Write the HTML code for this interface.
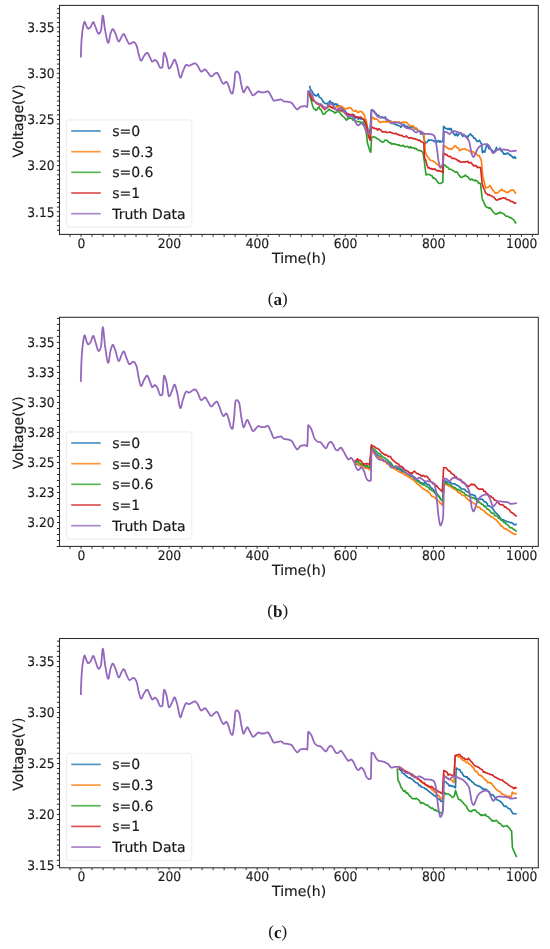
<!DOCTYPE html>
<html><head><meta charset="utf-8"><title>Voltage prediction</title>
<style>html,body{margin:0;padding:0;background:#fff;width:550px;height:949px;overflow:hidden}svg{display:block;text-rendering:geometricPrecision;filter:blur(0.3px)}text{stroke:#1a1a1a;stroke-width:0.18px}</style>
</head><body>
<svg width="550" height="949" viewBox="0 0 550 949">
<rect x="0" y="0" width="550" height="949" fill="#ffffff"/>
<g>
<clipPath id="clipa"><rect x="59.50" y="5.40" width="478.80" height="229.00"/></clipPath>
<g clip-path="url(#clipa)" fill="none" stroke-width="1.65" stroke-linejoin="round" stroke-linecap="butt">
<path d="M309.50,85.80 L310.55,89.62 L311.60,90.55 L312.70,92.72 L313.80,94.81 L314.90,94.66 L316.00,96.00 L317.10,95.65 L318.20,93.98 L319.30,97.16 L320.40,97.95 L321.37,98.46 L322.33,100.24 L323.30,102.18 L324.27,102.57 L325.23,103.55 L326.20,103.61 L327.17,104.15 L328.13,102.86 L329.10,102.01 L330.07,100.89 L331.03,103.50 L332.00,102.62 L332.88,102.81 L333.76,105.22 L334.64,104.27 L335.52,103.81 L336.40,105.20 L337.37,104.02 L338.33,106.75 L339.30,105.89 L340.16,106.50 L341.02,108.72 L341.88,107.54 L342.74,110.04 L343.60,108.95 L344.48,110.74 L345.36,111.08 L346.24,113.82 L347.12,114.78 L348.00,113.95 L348.88,115.11 L349.76,114.63 L350.64,115.47 L351.52,114.76 L352.40,114.32 L353.37,114.61 L354.33,116.62 L355.30,118.39 L356.27,117.27 L357.23,117.04 L358.20,119.23 L359.06,118.28 L359.92,118.48 L360.78,118.89 L361.64,118.90 L362.50,119.07 L363.50,119.19 L364.50,121.61 L365.50,122.13 L366.55,126.74 L367.60,129.22 L368.70,130.22 L369.80,133.73 L370.55,123.42 L371.30,110.21 L372.27,110.57 L373.23,111.07 L374.20,111.91 L375.17,113.21 L376.13,113.28 L377.10,116.02 L378.07,115.19 L379.03,115.98 L380.00,117.48 L380.90,117.75 L381.80,116.68 L382.70,117.31 L383.60,117.83 L384.50,117.36 L385.38,116.91 L386.26,119.47 L387.14,120.39 L388.02,120.77 L388.90,120.51 L389.78,121.33 L390.66,121.32 L391.54,121.82 L392.42,123.29 L393.30,123.75 L394.27,123.72 L395.23,124.24 L396.20,124.96 L397.17,125.06 L398.13,125.63 L399.10,125.79 L399.98,125.96 L400.86,127.39 L401.74,126.05 L402.62,124.84 L403.50,124.45 L404.36,124.73 L405.22,126.24 L406.08,126.83 L406.94,126.04 L407.80,128.06 L408.68,126.99 L409.56,128.21 L410.44,126.98 L411.32,127.87 L412.20,125.96 L413.06,126.66 L413.92,127.68 L414.78,128.83 L415.64,129.04 L416.50,128.27 L417.38,130.06 L418.26,130.66 L419.14,131.04 L420.02,131.59 L420.90,134.11 L422.00,133.26 L423.10,133.67 L424.20,139.48 L425.30,143.80 L426.20,142.57 L427.10,142.14 L428.00,140.84 L428.90,139.67 L429.80,140.47 L430.70,140.31 L431.60,139.99 L432.50,140.53 L433.38,140.71 L434.26,141.56 L435.14,140.89 L436.02,140.63 L436.90,142.37 L437.78,141.14 L438.66,140.52 L439.54,142.10 L440.42,141.13 L441.30,141.87 L442.15,141.50 L443.00,141.46 L443.60,126.37 L444.70,127.61 L445.80,128.49 L446.90,128.48 L448.00,129.29 L448.97,128.45 L449.93,129.71 L450.90,128.45 L452.00,130.95 L453.10,132.92 L454.20,134.12 L455.30,135.49 L456.40,133.58 L457.50,135.87 L458.55,134.55 L459.60,132.74 L460.70,132.55 L461.80,134.81 L462.90,136.45 L464.00,134.48 L465.10,136.16 L466.20,136.83 L466.90,136.23 L467.60,137.94 L468.57,135.70 L469.53,134.89 L470.50,133.89 L471.60,135.39 L472.70,135.93 L473.80,138.17 L474.90,138.19 L476.00,139.75 L477.10,141.52 L478.40,141.22 L479.40,140.21 L480.40,142.10 L481.60,144.04 L482.40,152.69 L483.60,151.03 L484.80,152.11 L486.00,147.29 L487.20,144.61 L488.00,145.97 L488.80,148.55 L489.60,148.01 L490.40,149.25 L491.20,149.67 L492.00,149.97 L492.80,152.41 L493.60,151.59 L494.40,151.26 L495.60,149.95 L496.40,147.37 L497.20,149.68 L498.20,149.70 L499.20,148.91 L500.00,148.14 L500.80,150.76 L501.60,150.32 L502.40,151.79 L503.20,152.93 L504.00,154.19 L504.80,153.83 L505.60,154.21 L506.40,153.27 L507.20,153.60 L508.00,153.01 L508.80,153.76 L509.60,154.98 L510.40,154.84 L511.20,155.96 L512.20,156.57 L513.20,157.96 L514.00,157.63 L514.80,156.65 L516.00,158.84" stroke="#1f77b4"/>
<path d="M309.50,91.00 L310.47,94.08 L311.43,97.78 L312.40,99.90 L313.60,100.90 L314.80,101.53 L316.00,103.01 L317.10,103.68 L318.20,103.42 L319.30,104.10 L320.40,104.82 L321.47,105.19 L322.55,105.77 L323.62,107.19 L324.70,107.54 L325.80,107.30 L326.90,107.28 L328.00,106.89 L329.10,105.84 L330.20,106.21 L331.30,107.03 L332.40,107.29 L333.50,106.95 L334.47,108.07 L335.43,107.21 L336.40,107.23 L337.47,106.20 L338.55,107.13 L339.62,106.11 L340.70,106.15 L341.80,106.29 L342.90,107.57 L344.00,108.27 L345.10,109.02 L346.20,108.92 L347.30,108.38 L348.40,108.41 L349.50,107.39 L350.57,107.88 L351.65,109.04 L352.73,110.06 L353.80,111.06 L354.90,111.24 L356.00,110.46 L357.10,111.79 L358.20,112.66 L359.17,111.79 L360.13,111.30 L361.10,111.44 L362.07,112.04 L363.03,113.52 L364.00,114.19 L365.10,117.73 L366.20,120.22 L367.60,127.67 L369.10,135.57 L370.50,137.12 L371.60,117.54 L372.60,117.98 L373.60,117.51 L374.60,119.33 L375.60,119.04 L376.70,119.07 L377.80,119.95 L378.90,121.37 L380.00,122.54 L381.12,122.08 L382.25,122.26 L383.38,121.48 L384.50,121.30 L385.54,122.20 L386.59,121.92 L387.63,121.59 L388.67,122.08 L389.71,120.97 L390.76,121.11 L391.80,121.66 L392.84,122.23 L393.89,121.60 L394.93,122.56 L395.97,121.73 L397.01,122.35 L398.06,122.32 L399.10,121.89 L400.26,122.58 L401.42,122.74 L402.58,122.11 L403.74,122.01 L404.90,122.53 L406.00,122.24 L407.10,123.03 L408.20,124.31 L409.30,124.96 L410.38,126.31 L411.45,126.04 L412.53,125.71 L413.60,126.02 L414.70,128.49 L415.80,127.83 L416.90,128.66 L418.00,130.04 L419.10,130.91 L420.20,131.45 L421.30,131.67 L422.40,132.28 L423.25,134.52 L424.10,135.68 L425.30,151.76 L426.38,154.83 L427.45,156.45 L428.53,157.79 L429.60,159.58 L430.70,160.35 L431.80,160.49 L432.90,160.74 L434.00,162.05 L435.10,162.15 L436.20,163.88 L437.30,163.95 L438.40,165.46 L439.47,165.64 L440.55,166.70 L441.62,165.62 L442.70,165.66 L443.50,145.61 L444.58,145.88 L445.67,146.60 L446.75,147.54 L447.83,148.18 L448.92,149.06 L450.00,148.47 L451.18,149.49 L452.36,148.69 L453.54,147.21 L454.72,145.77 L455.90,146.26 L457.10,147.77 L458.30,148.13 L459.50,150.63 L460.60,149.98 L461.70,149.20 L462.80,149.31 L463.90,148.95 L465.06,148.86 L466.22,149.76 L467.38,149.95 L468.54,150.47 L469.70,151.44 L470.86,152.06 L472.02,151.99 L473.18,151.66 L474.34,153.34 L475.50,152.78 L476.73,154.29 L477.97,155.77 L479.20,155.69 L480.30,158.06 L481.40,160.84 L482.80,176.63 L483.77,179.96 L484.73,184.08 L485.70,188.12 L486.80,187.50 L487.90,187.21 L489.00,186.75 L490.10,185.61 L491.26,187.62 L492.42,189.57 L493.58,190.82 L494.74,192.38 L495.90,193.44 L497.06,192.85 L498.22,192.41 L499.38,190.94 L500.54,190.49 L501.70,189.18 L502.86,190.78 L504.02,190.80 L505.18,191.44 L506.34,192.35 L507.50,192.59 L508.52,191.63 L509.54,191.57 L510.56,190.14 L511.58,190.54 L512.60,189.96 L513.83,190.37 L515.07,192.90 L516.30,193.18" stroke="#ff7f0e"/>
<path d="M308.70,91.60 L309.67,95.31 L310.63,98.21 L311.60,102.25 L312.70,106.04 L313.80,108.73 L314.90,109.11 L316.00,110.44 L316.97,109.68 L317.93,107.93 L318.90,106.62 L320.00,109.12 L321.10,109.66 L322.20,112.60 L323.30,114.28 L324.46,114.01 L325.62,112.53 L326.78,111.34 L327.94,110.66 L329.10,109.14 L330.26,110.37 L331.42,110.65 L332.58,111.37 L333.74,111.80 L334.90,113.11 L336.10,112.18 L337.30,112.00 L338.50,111.52 L339.52,112.10 L340.54,113.88 L341.56,114.94 L342.58,116.08 L343.60,116.92 L344.57,117.64 L345.53,118.92 L346.50,120.28 L347.60,118.55 L348.70,118.79 L349.80,118.01 L350.90,118.15 L352.00,118.92 L353.10,120.13 L354.20,119.32 L355.30,121.23 L356.46,121.20 L357.62,121.73 L358.78,121.59 L359.94,121.77 L361.10,122.51 L362.07,123.52 L363.03,121.86 L364.00,123.46 L365.10,128.14 L366.20,132.40 L367.60,143.84 L368.70,147.04 L369.80,150.88 L370.80,152.33 L371.60,137.18 L372.60,136.94 L373.60,136.72 L374.60,137.34 L375.60,137.39 L376.70,138.47 L377.80,139.00 L378.90,139.40 L380.00,140.49 L381.60,141.77 L382.70,142.12 L383.80,141.73 L384.90,140.12 L386.00,140.29 L387.16,140.37 L388.32,142.02 L389.48,142.67 L390.64,142.88 L391.80,144.15 L392.84,143.72 L393.89,143.84 L394.93,144.09 L395.97,144.49 L397.01,144.63 L398.06,145.06 L399.10,144.92 L400.14,145.74 L401.19,146.06 L402.23,145.58 L403.27,145.36 L404.31,146.53 L405.36,146.91 L406.40,146.53 L407.43,146.24 L408.46,147.15 L409.49,147.93 L410.51,146.61 L411.54,147.89 L412.57,147.74 L413.60,147.71 L414.78,148.76 L415.96,148.40 L417.14,149.55 L418.32,150.45 L419.50,150.38 L420.70,150.87 L421.90,151.43 L423.10,152.62 L424.50,162.57 L426.00,175.02 L427.02,174.47 L428.04,174.39 L429.06,174.56 L430.08,174.94 L431.10,175.55 L432.20,176.05 L433.30,178.30 L434.40,178.14 L435.50,179.05 L436.57,180.61 L437.65,182.20 L438.73,183.22 L439.80,183.48 L440.77,183.35 L441.73,182.83 L442.70,182.54 L443.50,164.92 L444.58,165.11 L445.67,165.70 L446.75,167.08 L447.83,167.20 L448.92,169.08 L450.00,169.22 L451.10,169.29 L452.20,170.16 L453.30,170.62 L454.40,171.34 L455.50,172.38 L456.60,171.85 L457.70,172.91 L458.80,175.15 L459.90,176.17 L461.00,177.57 L462.10,177.18 L463.20,176.37 L464.30,176.28 L465.40,175.00 L466.42,176.29 L467.44,176.75 L468.46,177.47 L469.48,179.12 L470.50,179.96 L471.50,178.99 L472.50,179.52 L473.50,180.31 L474.50,180.82 L475.50,180.20 L476.52,181.00 L477.54,181.02 L478.56,183.37 L479.58,183.03 L480.60,183.80 L482.10,198.20 L483.30,201.22 L484.50,203.97 L485.70,206.45 L486.80,207.31 L487.90,207.39 L489.00,208.31 L490.10,207.77 L491.26,209.16 L492.42,211.00 L493.58,212.58 L494.74,213.37 L495.90,214.28 L497.00,213.82 L498.10,212.93 L499.20,213.28 L500.30,212.10 L501.46,213.01 L502.62,213.32 L503.78,213.67 L504.94,215.19 L506.10,216.14 L507.26,216.24 L508.42,216.55 L509.58,217.63 L510.74,217.55 L511.90,218.64 L513.00,219.25 L514.10,220.41 L515.20,222.38 L516.30,223.55" stroke="#2ca02c"/>
<path d="M308.70,91.60 L309.93,95.39 L311.17,97.34 L312.40,100.41 L313.60,100.85 L314.80,101.49 L316.00,102.50 L317.10,103.86 L318.20,103.47 L319.30,104.86 L320.40,105.34 L321.47,105.67 L322.55,107.65 L323.62,108.10 L324.70,109.61 L325.80,108.27 L326.90,108.08 L328.00,106.50 L329.10,106.48 L330.20,106.54 L331.30,107.24 L332.40,108.13 L333.50,108.48 L334.66,108.65 L335.82,109.29 L336.98,109.60 L338.14,108.90 L339.30,110.05 L340.46,110.68 L341.62,110.62 L342.78,111.71 L343.94,111.52 L345.10,113.35 L346.26,113.03 L347.42,113.54 L348.58,114.56 L349.74,114.40 L350.90,115.17 L352.00,114.80 L353.10,115.39 L354.20,115.40 L355.30,116.31 L356.46,117.14 L357.62,117.06 L358.78,117.64 L359.94,117.06 L361.10,117.40 L362.30,118.32 L363.50,119.52 L364.70,120.16 L365.80,123.24 L366.90,126.78 L368.40,136.63 L369.25,138.14 L370.10,140.19 L371.30,126.24 L372.27,127.08 L373.23,128.23 L374.20,128.05 L375.36,128.76 L376.52,128.61 L377.68,130.20 L378.84,128.75 L380.00,129.69 L381.12,130.20 L382.25,131.88 L383.38,131.78 L384.50,131.98 L385.54,131.62 L386.59,132.46 L387.63,132.45 L388.67,132.19 L389.71,131.93 L390.76,132.20 L391.80,132.90 L392.84,133.25 L393.89,133.46 L394.93,133.67 L395.97,133.26 L397.01,134.39 L398.06,134.22 L399.10,135.02 L400.14,135.52 L401.19,135.32 L402.23,135.48 L403.27,136.70 L404.31,136.73 L405.36,136.60 L406.40,135.85 L407.43,137.38 L408.46,137.88 L409.49,138.30 L410.51,137.69 L411.54,137.91 L412.57,138.20 L413.60,138.98 L414.78,138.51 L415.96,139.43 L417.14,139.50 L418.32,140.48 L419.50,140.10 L420.57,141.52 L421.65,141.68 L422.73,142.35 L423.80,143.24 L424.50,158.01 L425.73,160.14 L426.97,164.75 L428.20,167.95 L429.36,167.87 L430.52,168.93 L431.68,168.68 L432.84,169.48 L434.00,168.93 L435.16,169.09 L436.32,170.31 L437.48,171.01 L438.64,170.61 L439.80,171.00 L440.77,171.12 L441.73,171.47 L442.70,172.70 L443.50,154.58 L444.58,153.55 L445.67,154.64 L446.75,154.49 L447.83,155.88 L448.92,156.71 L450.00,156.24 L451.10,157.17 L452.20,158.50 L453.30,158.41 L454.40,158.44 L455.50,158.96 L456.60,159.19 L457.78,160.89 L458.96,160.64 L460.14,161.89 L461.32,162.25 L462.50,162.00 L463.57,161.86 L464.65,162.25 L465.73,161.77 L466.80,161.62 L467.84,161.29 L468.89,162.96 L469.93,162.69 L470.97,162.59 L472.01,163.87 L473.06,164.86 L474.10,166.14 L475.18,165.52 L476.27,165.57 L477.35,167.61 L478.43,167.21 L479.52,167.50 L480.60,167.62 L482.10,182.95 L483.30,187.43 L484.50,190.01 L485.70,193.26 L486.86,193.71 L488.02,195.09 L489.18,194.55 L490.34,195.54 L491.50,195.82 L492.68,196.69 L493.86,197.07 L495.04,198.64 L496.22,199.94 L497.40,200.08 L498.56,199.25 L499.72,198.64 L500.88,198.87 L502.04,198.22 L503.20,197.85 L504.36,198.35 L505.52,198.12 L506.68,199.57 L507.84,199.77 L509.00,200.07 L510.04,200.72 L511.09,201.55 L512.13,201.67 L513.17,201.77 L514.21,203.20 L515.26,202.99 L516.30,203.37" stroke="#d62728"/>
<path d="M80.80,57.51 L81.20,46.82 L81.50,41.04 L81.60,39.68 L82.00,34.98 L82.40,31.39 L82.80,28.74 L82.80,28.74 L83.20,26.50 L83.60,24.44 L84.00,22.83 L84.40,21.90 L84.60,21.77 L84.80,21.88 L85.20,22.62 L85.60,23.78 L86.00,25.05 L86.40,26.10 L86.50,26.30 L86.80,26.84 L87.20,27.57 L87.60,28.20 L88.00,28.63 L88.30,28.74 L88.40,28.73 L88.80,28.61 L89.20,28.37 L89.60,28.03 L90.00,27.63 L90.40,27.21 L90.50,27.11 L90.80,26.70 L91.20,25.93 L91.60,24.99 L92.00,24.02 L92.40,23.14 L92.80,22.48 L93.20,22.15 L93.30,22.13 L93.60,22.31 L94.00,22.99 L94.40,24.02 L94.80,25.21 L95.20,26.37 L95.50,27.11 L95.60,27.33 L96.00,28.32 L96.40,29.41 L96.80,30.53 L97.20,31.58 L97.60,32.52 L98.00,33.25 L98.40,33.70 L98.70,33.81 L98.80,33.80 L99.20,33.61 L99.60,33.20 L100.00,32.58 L100.40,31.80 L100.80,30.87 L101.00,30.37 L101.20,29.45 L101.60,25.83 L102.00,21.20 L102.40,17.22 L102.80,15.53 L102.80,15.53 L103.20,16.43 L103.60,18.77 L104.00,21.95 L104.40,25.41 L104.80,28.56 L105.10,30.37 L105.20,30.87 L105.60,32.94 L106.00,35.07 L106.40,37.13 L106.80,39.04 L107.20,40.67 L107.60,41.91 L108.00,42.67 L108.30,42.85 L108.40,42.81 L108.80,41.88 L109.20,40.07 L109.60,37.84 L110.00,35.64 L110.40,33.92 L110.50,33.62 L110.80,32.80 L111.20,31.71 L111.60,30.71 L112.00,29.87 L112.40,29.31 L112.80,29.10 L112.80,29.10 L113.20,29.29 L113.60,29.80 L114.00,30.52 L114.40,31.36 L114.80,32.21 L115.10,32.81 L115.20,33.00 L115.60,33.92 L116.00,35.02 L116.40,36.21 L116.80,37.44 L117.20,38.62 L117.60,39.69 L118.00,40.57 L118.40,41.19 L118.80,41.48 L118.90,41.50 L119.20,41.38 L119.60,40.90 L120.00,40.15 L120.40,39.26 L120.80,38.34 L121.20,37.49 L121.50,36.97 L121.60,36.82 L122.00,36.15 L122.40,35.45 L122.80,34.81 L123.20,34.33 L123.60,34.09 L123.70,34.08 L124.00,34.19 L124.40,34.66 L124.80,35.40 L125.20,36.29 L125.60,37.26 L126.00,38.18 L126.40,38.96 L126.40,38.96 L126.80,39.71 L127.20,40.54 L127.60,41.39 L128.00,42.21 L128.40,42.93 L128.80,43.50 L129.20,43.85 L129.50,43.94 L129.60,43.94 L130.00,43.86 L130.40,43.71 L130.80,43.49 L131.20,43.23 L131.60,42.95 L132.00,42.68 L132.40,42.43 L132.80,42.23 L133.20,42.09 L133.60,42.04 L133.60,42.04 L134.00,42.13 L134.40,42.38 L134.80,42.77 L135.20,43.27 L135.60,43.86 L136.00,44.51 L136.40,45.21 L136.40,45.21 L136.80,46.20 L137.20,47.67 L137.60,49.44 L138.00,51.34 L138.40,53.21 L138.80,54.87 L139.10,55.88 L139.20,56.18 L139.60,57.46 L140.00,58.73 L140.40,59.80 L140.80,60.50 L141.10,60.68 L141.20,60.67 L141.60,60.41 L142.00,59.88 L142.40,59.16 L142.80,58.33 L143.20,57.47 L143.60,56.67 L144.00,56.02 L144.10,55.88 L144.40,55.49 L144.80,54.95 L145.20,54.40 L145.60,53.88 L146.00,53.43 L146.40,53.08 L146.80,52.86 L147.10,52.81 L147.20,52.82 L147.60,53.06 L148.00,53.56 L148.40,54.25 L148.80,55.06 L149.20,55.92 L149.60,56.76 L150.00,57.51 L150.00,57.51 L150.40,58.30 L150.80,59.22 L151.20,60.15 L151.60,60.93 L152.00,61.45 L152.30,61.58 L152.40,61.58 L152.80,61.44 L153.20,61.16 L153.60,60.82 L154.00,60.46 L154.40,60.16 L154.80,59.98 L155.00,59.96 L155.20,59.98 L155.60,60.17 L156.00,60.50 L156.40,60.94 L156.80,61.42 L157.20,61.92 L157.30,62.04 L157.60,62.47 L158.00,63.25 L158.40,64.18 L158.80,65.16 L159.20,66.11 L159.60,66.93 L160.00,67.53 L160.40,67.81 L160.50,67.83 L160.80,67.81 L161.20,67.76 L161.60,67.66 L162.00,67.51 L162.30,67.38 L162.40,67.20 L162.80,64.48 L163.20,59.94 L163.60,55.43 L164.00,52.85 L164.10,52.72 L164.40,52.85 L164.80,53.37 L165.20,54.20 L165.60,55.24 L166.00,56.38 L166.40,57.51 L166.40,57.51 L166.80,58.97 L167.20,60.95 L167.60,63.17 L168.00,65.33 L168.40,67.16 L168.80,68.34 L169.10,68.64 L169.20,68.63 L169.60,68.43 L170.00,67.99 L170.40,67.38 L170.80,66.64 L171.20,65.83 L171.60,65.00 L172.00,64.21 L172.30,63.67 L172.40,63.49 L172.80,62.62 L173.20,61.64 L173.60,60.71 L174.00,59.98 L174.40,59.61 L174.50,59.59 L174.80,59.73 L175.20,60.29 L175.60,61.16 L176.00,62.23 L176.40,63.38 L176.80,64.48 L176.80,64.48 L177.20,65.74 L177.60,67.35 L178.00,69.18 L178.40,71.10 L178.80,72.99 L179.20,74.72 L179.60,76.16 L180.00,77.19 L180.40,77.67 L180.50,77.69 L180.80,77.48 L181.20,76.64 L181.60,75.41 L182.00,74.01 L182.40,72.69 L182.70,71.90 L182.80,71.67 L183.20,70.72 L183.60,69.72 L184.00,68.71 L184.40,67.73 L184.80,66.84 L185.20,66.07 L185.60,65.47 L186.00,65.07 L186.40,64.93 L186.40,64.93 L186.80,64.98 L187.20,65.10 L187.60,65.27 L188.00,65.45 L188.40,65.61 L188.80,65.72 L189.10,65.75 L189.20,65.74 L189.60,65.66 L190.00,65.50 L190.40,65.28 L190.80,65.04 L191.20,64.79 L191.60,64.57 L191.80,64.48 L192.00,64.39 L192.40,64.21 L192.80,64.01 L193.20,63.82 L193.60,63.64 L194.00,63.49 L194.40,63.37 L194.80,63.31 L195.00,63.30 L195.20,63.33 L195.60,63.51 L196.00,63.84 L196.40,64.26 L196.80,64.72 L197.20,65.19 L197.30,65.29 L197.60,65.67 L198.00,66.30 L198.40,67.04 L198.80,67.84 L199.20,68.66 L199.60,69.46 L200.00,70.19 L200.40,70.80 L200.80,71.26 L201.20,71.50 L201.40,71.54 L201.60,71.52 L202.00,71.38 L202.40,71.15 L202.80,70.84 L203.20,70.50 L203.60,70.16 L204.00,69.85 L204.40,69.61 L204.80,69.48 L205.00,69.46 L205.20,69.49 L205.60,69.71 L206.00,70.10 L206.40,70.61 L206.80,71.17 L207.20,71.73 L207.60,72.24 L207.70,72.35 L208.00,72.70 L208.40,73.23 L208.80,73.81 L209.20,74.39 L209.60,74.96 L210.00,75.47 L210.40,75.91 L210.80,76.23 L211.20,76.40 L211.40,76.42 L211.60,76.40 L212.00,76.23 L212.40,75.94 L212.80,75.56 L213.20,75.15 L213.60,74.76 L214.00,74.41 L214.10,74.34 L214.40,74.13 L214.80,73.81 L215.20,73.49 L215.60,73.19 L216.00,72.95 L216.40,72.78 L216.80,72.71 L216.80,72.71 L217.20,72.88 L217.60,73.34 L218.00,73.98 L218.40,74.74 L218.80,75.52 L219.10,76.06 L219.20,76.24 L219.60,77.03 L220.00,77.93 L220.40,78.88 L220.80,79.81 L221.20,80.69 L221.60,81.45 L221.80,81.76 L222.00,82.07 L222.40,82.69 L222.80,83.27 L223.20,83.68 L223.60,83.84 L223.60,83.84 L224.00,83.71 L224.40,83.37 L224.80,82.92 L225.20,82.45 L225.60,82.04 L226.00,81.80 L226.20,81.76 L226.40,81.81 L226.80,82.17 L227.20,82.80 L227.60,83.63 L228.00,84.55 L228.40,85.48 L228.60,85.93 L228.80,86.40 L229.20,87.58 L229.60,88.91 L230.00,90.25 L230.40,91.43 L230.80,92.29 L230.90,92.44 L231.20,92.83 L231.60,93.30 L232.00,93.62 L232.30,93.71 L232.40,93.66 L232.80,92.72 L233.20,90.84 L233.60,88.39 L234.00,85.75 L234.10,85.11 L234.40,82.49 L234.80,77.82 L235.20,73.75 L235.50,72.35 L235.60,72.24 L236.00,71.86 L236.40,71.62 L236.80,71.54 L236.80,71.54 L237.20,71.61 L237.60,71.82 L238.00,72.16 L238.40,72.59 L238.80,73.10 L239.10,73.53 L239.20,73.71 L239.60,75.04 L240.00,77.10 L240.40,79.53 L240.80,82.02 L241.20,84.22 L241.40,85.11 L241.60,85.94 L242.00,87.72 L242.40,89.47 L242.80,90.98 L243.20,92.04 L243.60,92.44 L243.60,92.44 L244.00,92.17 L244.40,91.49 L244.80,90.61 L245.20,89.72 L245.50,89.18 L245.60,89.03 L246.00,88.33 L246.40,87.62 L246.80,87.05 L247.20,86.75 L247.30,86.74 L247.60,86.84 L248.00,87.22 L248.40,87.83 L248.80,88.57 L249.20,89.37 L249.60,90.15 L250.00,90.81 L250.00,90.81 L250.40,91.45 L250.80,92.18 L251.20,92.93 L251.60,93.66 L252.00,94.31 L252.40,94.85 L252.80,95.21 L253.20,95.34 L253.20,95.34 L253.60,95.26 L254.00,95.06 L254.40,94.76 L254.80,94.40 L255.20,94.00 L255.60,93.59 L256.00,93.21 L256.40,92.89 L256.40,92.89 L256.80,92.58 L257.20,92.23 L257.60,91.90 L258.00,91.63 L258.40,91.47 L258.60,91.44 L258.80,91.46 L259.20,91.55 L259.60,91.71 L260.00,91.90 L260.40,92.09 L260.80,92.24 L261.20,92.34 L261.40,92.35 L261.60,92.35 L262.00,92.35 L262.40,92.35 L262.80,92.35 L263.20,92.35 L263.60,92.35 L264.00,92.35 L264.10,92.35 L264.40,92.33 L264.80,92.24 L265.20,92.11 L265.60,91.94 L266.00,91.76 L266.40,91.59 L266.80,91.43 L267.20,91.32 L267.60,91.27 L267.70,91.26 L268.00,91.34 L268.40,91.65 L268.80,92.15 L269.20,92.78 L269.60,93.47 L270.00,94.18 L270.40,94.83 L270.50,94.97 L270.80,95.45 L271.20,96.19 L271.60,97.01 L272.00,97.85 L272.40,98.67 L272.80,99.41 L273.20,100.03 L273.60,100.46 L274.00,100.67 L274.10,100.67 L274.40,100.66 L274.80,100.62 L275.20,100.54 L275.60,100.45 L276.00,100.35 L276.40,100.24 L276.80,100.14 L277.20,100.06 L277.30,100.04 L277.60,99.99 L278.00,99.91 L278.40,99.83 L278.80,99.75 L279.20,99.67 L279.60,99.61 L280.00,99.55 L280.40,99.52 L280.80,99.50 L280.90,99.50 L281.20,99.54 L281.60,99.71 L282.00,99.97 L282.40,100.29 L282.80,100.63 L283.20,100.95 L283.60,101.21 L284.00,101.38 L284.10,101.40 L284.40,101.45 L284.80,101.50 L285.20,101.54 L285.60,101.57 L286.00,101.60 L286.40,101.63 L286.80,101.66 L287.20,101.70 L287.60,101.75 L287.70,101.76 L288.00,101.81 L288.40,101.87 L288.80,101.95 L289.20,102.03 L289.60,102.13 L290.00,102.24 L290.40,102.37 L290.80,102.51 L291.20,102.67 L291.40,102.76 L291.60,102.86 L292.00,103.19 L292.40,103.63 L292.80,104.16 L293.20,104.75 L293.60,105.36 L294.00,105.97 L294.40,106.55 L294.80,107.06 L295.00,107.28 L295.20,107.50 L295.60,107.97 L296.00,108.45 L296.40,108.88 L296.80,109.20 L297.20,109.35 L297.30,109.36 L297.60,109.31 L298.00,109.08 L298.40,108.74 L298.80,108.31 L299.20,107.87 L299.60,107.44 L300.00,107.09 L300.40,106.86 L300.50,106.83 L300.80,106.75 L301.20,106.65 L301.60,106.55 L302.00,106.47 L302.40,106.39 L302.80,106.33 L303.20,106.27 L303.60,106.23 L304.00,106.21 L304.40,106.19 L304.50,106.19 L304.80,106.21 L305.20,106.29 L305.60,106.41 L306.00,106.54 L306.40,106.67 L306.80,106.77 L307.20,106.82 L307.30,106.83 L307.60,102.67 L308.00,92.83 L308.20,90.81 L308.40,90.83 L308.80,90.99 L309.20,91.28 L309.60,91.68 L310.00,92.13 L310.40,92.63 L310.80,93.13 L310.90,93.25 L311.20,93.67 L311.60,94.38 L312.00,95.22 L312.40,96.15 L312.80,97.13 L313.20,98.11 L313.60,99.06 L314.00,99.93 L314.40,100.68 L314.80,101.27 L315.00,101.49 L315.20,101.68 L315.60,102.04 L316.00,102.36 L316.40,102.66 L316.80,102.92 L317.20,103.16 L317.60,103.35 L318.00,103.51 L318.20,103.57 L318.40,103.62 L318.80,103.71 L319.20,103.77 L319.60,103.83 L320.00,103.90 L320.40,103.99 L320.50,104.02 L320.80,104.16 L321.20,104.44 L321.60,104.81 L322.00,105.23 L322.40,105.67 L322.80,106.09 L323.20,106.47 L323.20,106.47 L323.60,106.83 L324.00,107.23 L324.40,107.64 L324.80,108.01 L325.20,108.31 L325.60,108.50 L325.90,108.55 L326.00,108.53 L326.40,108.27 L326.80,107.74 L327.20,107.05 L327.60,106.29 L328.00,105.59 L328.40,105.03 L328.60,104.84 L328.80,104.68 L329.20,104.37 L329.60,104.08 L330.00,103.83 L330.40,103.66 L330.80,103.57 L330.90,103.57 L331.20,103.63 L331.60,103.86 L332.00,104.22 L332.40,104.68 L332.80,105.17 L333.20,105.65 L333.20,105.65 L333.60,106.23 L334.00,106.95 L334.40,107.74 L334.80,108.48 L335.20,109.07 L335.50,109.36 L335.60,109.43 L336.00,109.69 L336.40,109.92 L336.80,110.09 L337.20,110.17 L337.30,110.18 L337.60,110.13 L338.00,109.97 L338.40,109.71 L338.80,109.39 L339.20,109.05 L339.60,108.71 L340.00,108.42 L340.40,108.20 L340.80,108.10 L340.90,108.09 L341.20,108.16 L341.60,108.41 L342.00,108.82 L342.40,109.33 L342.80,109.89 L343.20,110.46 L343.60,110.99 L343.60,110.99 L344.00,111.51 L344.40,112.09 L344.80,112.70 L345.20,113.31 L345.60,113.91 L346.00,114.47 L346.40,114.97 L346.40,114.97 L346.80,115.47 L347.20,116.00 L347.60,116.49 L348.00,116.88 L348.40,117.11 L348.60,117.14 L348.80,117.12 L349.20,116.93 L349.60,116.63 L350.00,116.31 L350.40,116.03 L350.80,115.88 L350.90,115.88 L351.20,115.93 L351.60,116.13 L352.00,116.46 L352.40,116.89 L352.80,117.38 L353.20,117.89 L353.60,118.41 L353.60,118.41 L354.00,119.02 L354.40,119.78 L354.80,120.65 L355.20,121.55 L355.60,122.41 L356.00,123.16 L356.40,123.75 L356.40,123.75 L356.80,124.24 L357.20,124.72 L357.60,125.11 L358.00,125.34 L358.20,125.38 L358.40,125.35 L358.80,125.18 L359.20,124.89 L359.60,124.53 L360.00,124.14 L360.40,123.78 L360.80,123.49 L361.20,123.32 L361.40,123.30 L361.60,123.32 L362.00,123.51 L362.40,123.85 L362.80,124.31 L363.20,124.85 L363.60,125.44 L364.00,126.04 L364.10,126.19 L364.40,126.74 L364.80,127.70 L365.20,128.81 L365.60,129.91 L366.00,130.87 L366.40,131.53 L366.40,131.53 L366.80,131.99 L367.20,132.43 L367.60,132.83 L368.00,133.17 L368.40,133.42 L368.80,133.57 L369.10,133.61 L369.20,133.61 L369.60,133.59 L370.00,133.52 L370.40,133.40 L370.80,133.22 L370.90,133.16 L371.20,121.40 L371.50,109.72 L371.60,109.73 L372.00,109.78 L372.40,109.91 L372.80,110.09 L373.20,110.30 L373.60,110.54 L373.60,110.54 L374.00,110.92 L374.40,111.51 L374.80,112.25 L375.20,113.05 L375.60,113.84 L376.00,114.53 L376.40,115.06 L376.40,115.06 L376.80,115.47 L377.20,115.87 L377.60,116.24 L378.00,116.57 L378.40,116.84 L378.80,117.04 L379.10,117.14 L379.20,117.17 L379.60,117.25 L380.00,117.31 L380.40,117.36 L380.80,117.40 L381.20,117.44 L381.60,117.49 L382.00,117.54 L382.30,117.60 L382.40,117.62 L382.80,117.70 L383.20,117.81 L383.60,117.92 L384.00,118.04 L384.40,118.18 L384.80,118.33 L385.20,118.48 L385.60,118.64 L385.90,118.77 L386.00,118.82 L386.40,119.00 L386.80,119.21 L387.20,119.44 L387.60,119.69 L388.00,119.96 L388.40,120.25 L388.60,120.40 L388.80,120.57 L389.20,121.02 L389.60,121.56 L390.00,122.11 L390.40,122.63 L390.80,123.03 L391.20,123.26 L391.40,123.30 L391.60,123.29 L392.00,123.24 L392.40,123.14 L392.80,123.02 L393.20,122.89 L393.60,122.75 L394.00,122.63 L394.40,122.54 L394.80,122.49 L395.00,122.48 L395.20,122.48 L395.60,122.49 L396.00,122.50 L396.40,122.52 L396.80,122.54 L397.20,122.57 L397.30,122.57 L397.60,122.60 L398.00,122.66 L398.40,122.74 L398.80,122.84 L399.20,122.95 L399.60,123.09 L400.00,123.24 L400.40,123.40 L400.80,123.57 L401.20,123.75 L401.60,123.93 L401.60,123.93 L402.00,124.16 L402.40,124.47 L402.80,124.84 L403.20,125.26 L403.60,125.70 L404.00,126.14 L404.40,126.58 L404.80,126.98 L405.20,127.33 L405.60,127.62 L406.00,127.82 L406.00,127.82 L406.40,127.96 L406.80,128.08 L407.20,128.19 L407.60,128.28 L408.00,128.35 L408.40,128.43 L408.80,128.49 L409.20,128.56 L409.60,128.63 L410.00,128.70 L410.40,128.78 L410.80,128.87 L411.20,128.98 L411.60,129.11 L411.80,129.18 L412.00,129.26 L412.40,129.51 L412.80,129.82 L413.20,130.19 L413.60,130.60 L414.00,131.01 L414.40,131.40 L414.80,131.77 L415.20,132.07 L415.60,132.30 L416.00,132.42 L416.20,132.43 L416.40,132.42 L416.80,132.29 L417.20,132.09 L417.60,131.83 L418.00,131.58 L418.40,131.35 L418.80,131.21 L419.10,131.17 L419.20,131.17 L419.60,131.21 L420.00,131.30 L420.40,131.43 L420.80,131.59 L421.20,131.78 L421.60,131.99 L422.00,132.22 L422.40,132.45 L422.80,132.68 L423.20,132.91 L423.50,133.07 L423.60,133.13 L424.00,133.42 L424.40,133.74 L424.80,133.96 L425.00,133.99 L425.20,133.99 L425.60,133.97 L426.00,133.95 L426.40,133.91 L426.80,133.88 L427.20,133.85 L427.60,133.84 L427.70,133.84 L428.00,133.85 L428.40,133.87 L428.80,133.90 L429.20,133.95 L429.60,134.01 L430.00,134.07 L430.40,134.13 L430.50,134.15 L430.80,134.20 L431.20,134.28 L431.60,134.38 L432.00,134.50 L432.40,134.64 L432.80,134.80 L433.20,134.99 L433.20,134.99 L433.60,135.27 L434.00,135.67 L434.40,136.22 L434.50,136.38 L434.80,137.03 L435.20,138.33 L435.50,139.53 L435.60,139.99 L436.00,142.40 L436.40,145.13 L436.40,145.13 L436.80,147.86 L437.20,150.71 L437.30,151.43 L437.60,153.78 L438.00,157.10 L438.40,160.06 L438.60,161.19 L438.80,162.18 L439.20,164.15 L439.60,165.90 L440.00,167.21 L440.40,167.85 L440.50,167.88 L440.80,167.75 L441.20,167.26 L441.60,166.49 L442.00,165.52 L442.30,164.73 L442.40,164.45 L442.80,163.01 L443.20,160.50 L443.20,160.50 L443.60,147.54 L444.00,132.74 L444.10,131.84 L444.40,131.84 L444.80,131.84 L445.20,131.84 L445.60,131.84 L445.90,131.84 L446.00,131.85 L446.40,131.99 L446.80,132.25 L447.20,132.56 L447.60,132.86 L447.70,132.92 L448.00,133.12 L448.40,133.44 L448.80,133.73 L449.20,133.94 L449.50,133.99 L449.60,133.98 L450.00,133.75 L450.40,133.31 L450.80,132.80 L451.20,132.37 L451.40,132.23 L451.60,132.11 L452.00,131.88 L452.40,131.67 L452.80,131.47 L453.20,131.32 L453.60,131.21 L454.00,131.15 L454.10,131.15 L454.40,131.16 L454.80,131.21 L455.20,131.30 L455.60,131.40 L456.00,131.52 L456.40,131.64 L456.80,131.77 L456.80,131.77 L457.20,131.90 L457.60,132.06 L458.00,132.24 L458.40,132.42 L458.80,132.61 L459.20,132.79 L459.50,132.92 L459.60,132.96 L460.00,133.11 L460.40,133.25 L460.80,133.38 L461.20,133.52 L461.60,133.68 L462.00,133.85 L462.30,133.99 L462.40,134.05 L462.80,134.28 L463.20,134.56 L463.60,134.86 L464.00,135.19 L464.40,135.53 L464.80,135.89 L465.00,136.07 L465.20,136.25 L465.60,136.63 L466.00,137.03 L466.40,137.46 L466.80,137.92 L467.20,138.40 L467.30,138.53 L467.60,138.90 L468.00,139.39 L468.40,139.96 L468.80,140.65 L469.10,141.29 L469.20,141.56 L469.60,143.16 L470.00,145.26 L470.40,147.41 L470.50,147.90 L470.80,149.47 L471.20,151.70 L471.60,153.57 L471.80,154.20 L472.00,154.68 L472.40,155.59 L472.80,156.34 L473.20,156.85 L473.60,157.04 L473.60,157.04 L474.00,156.78 L474.40,156.09 L474.80,155.17 L475.20,154.18 L475.50,153.51 L475.60,153.30 L476.00,152.35 L476.40,151.33 L476.80,150.35 L477.20,149.53 L477.30,149.36 L477.60,148.90 L478.00,148.32 L478.40,147.79 L478.80,147.32 L479.20,146.89 L479.60,146.52 L480.00,146.21 L480.00,146.21 L480.40,145.93 L480.80,145.67 L481.20,145.43 L481.60,145.20 L482.00,145.00 L482.40,144.81 L482.80,144.66 L483.20,144.54 L483.60,144.44 L483.60,144.44 L484.00,144.37 L484.40,144.30 L484.80,144.23 L485.20,144.17 L485.60,144.13 L486.00,144.09 L486.40,144.07 L486.80,144.06 L486.80,144.06 L487.20,144.14 L487.60,144.35 L488.00,144.66 L488.40,145.05 L488.80,145.49 L489.10,145.83 L489.20,145.95 L489.60,146.60 L490.00,147.44 L490.40,148.33 L490.80,149.17 L490.90,149.36 L491.20,149.95 L491.60,150.82 L492.00,151.70 L492.40,152.46 L492.80,153.00 L493.20,153.20 L493.20,153.20 L493.60,153.11 L494.00,152.87 L494.40,152.52 L494.80,152.12 L495.20,151.71 L495.50,151.43 L495.60,151.34 L496.00,150.90 L496.40,150.40 L496.80,149.97 L497.20,149.70 L497.30,149.67 L497.60,149.61 L498.00,149.53 L498.40,149.47 L498.80,149.42 L499.20,149.39 L499.60,149.37 L500.00,149.36 L500.00,149.36 L500.40,149.37 L500.80,149.39 L501.20,149.42 L501.60,149.46 L502.00,149.50 L502.40,149.55 L502.80,149.59 L503.20,149.63 L503.60,149.67 L503.60,149.67 L504.00,149.69 L504.40,149.72 L504.80,149.74 L505.20,149.75 L505.60,149.77 L506.00,149.79 L506.40,149.82 L506.80,149.85 L507.20,149.89 L507.30,149.90 L507.60,149.95 L508.00,150.08 L508.40,150.26 L508.80,150.47 L509.20,150.69 L509.60,150.90 L510.00,151.08 L510.40,151.21 L510.80,151.28 L510.90,151.28 L511.20,151.28 L511.60,151.26 L512.00,151.23 L512.40,151.19 L512.80,151.14 L513.20,151.09 L513.60,151.05 L513.60,151.05 L514.00,151.01 L514.40,150.96 L514.80,150.90 L515.20,150.85 L515.60,150.79 L516.00,150.72 L516.40,150.66 L516.80,150.59" stroke="#9467bd" stroke-width="1.80"/>
</g>
<rect x="59.50" y="5.40" width="478.80" height="229.00" fill="none" stroke="#2b2b2b" stroke-width="1.05"/>
<path d="M69.99,234.40 v2.4 M81.00,234.40 v2.4 M92.01,234.40 v2.4 M103.02,234.40 v2.4 M114.03,234.40 v2.4 M125.04,234.40 v2.4 M136.05,234.40 v2.4 M147.06,234.40 v2.4 M158.07,234.40 v2.4 M169.08,234.40 v2.4 M180.09,234.40 v2.4 M191.10,234.40 v2.4 M202.11,234.40 v2.4 M213.12,234.40 v2.4 M224.13,234.40 v2.4 M235.14,234.40 v2.4 M246.15,234.40 v2.4 M257.16,234.40 v2.4 M268.17,234.40 v2.4 M279.18,234.40 v2.4 M290.19,234.40 v2.4 M301.20,234.40 v2.4 M312.21,234.40 v2.4 M323.22,234.40 v2.4 M334.23,234.40 v2.4 M345.24,234.40 v2.4 M356.25,234.40 v2.4 M367.26,234.40 v2.4 M378.27,234.40 v2.4 M389.28,234.40 v2.4 M400.29,234.40 v2.4 M411.30,234.40 v2.4 M422.31,234.40 v2.4 M433.32,234.40 v2.4 M444.33,234.40 v2.4 M455.34,234.40 v2.4 M466.35,234.40 v2.4 M477.36,234.40 v2.4 M488.37,234.40 v2.4 M499.38,234.40 v2.4 M510.39,234.40 v2.4 M521.40,234.40 v2.4 M532.41,234.40 v2.4 M59.50,230.15 h-2.6 M59.50,225.54 h-2.6 M59.50,220.93 h-2.6 M59.50,216.31 h-2.6 M59.50,211.70 h-2.6 M59.50,207.09 h-2.6 M59.50,202.48 h-2.6 M59.50,197.86 h-2.6 M59.50,193.25 h-2.6 M59.50,188.64 h-2.6 M59.50,184.03 h-2.6 M59.50,179.41 h-2.6 M59.50,174.80 h-2.6 M59.50,170.19 h-2.6 M59.50,165.58 h-2.6 M59.50,160.96 h-2.6 M59.50,156.35 h-2.6 M59.50,151.74 h-2.6 M59.50,147.13 h-2.6 M59.50,142.51 h-2.6 M59.50,137.90 h-2.6 M59.50,133.29 h-2.6 M59.50,128.68 h-2.6 M59.50,124.06 h-2.6 M59.50,119.45 h-2.6 M59.50,114.84 h-2.6 M59.50,110.23 h-2.6 M59.50,105.61 h-2.6 M59.50,101.00 h-2.6 M59.50,96.39 h-2.6 M59.50,91.78 h-2.6 M59.50,87.16 h-2.6 M59.50,82.55 h-2.6 M59.50,77.94 h-2.6 M59.50,73.33 h-2.6 M59.50,68.71 h-2.6 M59.50,64.10 h-2.6 M59.50,59.49 h-2.6 M59.50,54.88 h-2.6 M59.50,50.26 h-2.6 M59.50,45.65 h-2.6 M59.50,41.04 h-2.6 M59.50,36.43 h-2.6 M59.50,31.81 h-2.6 M59.50,27.20 h-2.6 M59.50,22.59 h-2.6 M59.50,17.98 h-2.6 M59.50,13.36 h-2.6 M59.50,8.75 h-2.6" stroke="#2b2b2b" stroke-width="1" fill="none"/>
<g font-family="'DejaVu Sans', 'Liberation Sans', sans-serif" font-size="13.20" fill="#1a1a1a">
<text transform="translate(81.30,247.50) scale(0.930,1)" text-anchor="middle">0</text>
<text transform="translate(169.38,247.50) scale(0.930,1)" text-anchor="middle">200</text>
<text transform="translate(257.46,247.50) scale(0.930,1)" text-anchor="middle">400</text>
<text transform="translate(345.54,247.50) scale(0.930,1)" text-anchor="middle">600</text>
<text transform="translate(433.62,247.50) scale(0.930,1)" text-anchor="middle">800</text>
<text transform="translate(521.70,247.50) scale(0.930,1)" text-anchor="middle">1000</text>
<text transform="translate(54.6,216.50) scale(0.930,1)" text-anchor="end">3.15</text>
<text transform="translate(54.6,170.37) scale(0.930,1)" text-anchor="end">3.20</text>
<text transform="translate(54.6,124.25) scale(0.930,1)" text-anchor="end">3.25</text>
<text transform="translate(54.6,78.13) scale(0.930,1)" text-anchor="end">3.30</text>
<text transform="translate(54.6,32.00) scale(0.930,1)" text-anchor="end">3.35</text>
</g>
<text x="299.10" y="262.80" font-family="'DejaVu Sans', 'Liberation Sans', sans-serif" font-size="14.00" fill="#1a1a1a" text-anchor="middle">Time(h)</text>
<text transform="translate(22.7,120.90) rotate(-90)" font-family="'DejaVu Sans', 'Liberation Sans', sans-serif" font-size="14.00" fill="#1a1a1a" text-anchor="middle">Voltage(V)</text>
<rect x="66.40" y="119.90" width="125.40" height="107.20" rx="2.8" fill="#ffffff" fill-opacity="0.8" stroke="#eaeaea" stroke-width="0.9"/>
<path d="M71.2,131.00 H100.7" stroke="#4c92c3" stroke-width="1.70"/>
<text x="112.2" y="135.90" font-family="'DejaVu Sans', 'Liberation Sans', sans-serif" font-size="14.00" fill="#1a1a1a">s=0</text>
<path d="M71.2,151.67 H100.7" stroke="#ff993e" stroke-width="1.70"/>
<text x="112.2" y="156.57" font-family="'DejaVu Sans', 'Liberation Sans', sans-serif" font-size="14.00" fill="#1a1a1a">s=0.3</text>
<path d="M71.2,172.34 H100.7" stroke="#56b356" stroke-width="1.70"/>
<text x="112.2" y="177.24" font-family="'DejaVu Sans', 'Liberation Sans', sans-serif" font-size="14.00" fill="#1a1a1a">s=0.6</text>
<path d="M71.2,193.01 H100.7" stroke="#de5253" stroke-width="1.70"/>
<text x="112.2" y="197.91" font-family="'DejaVu Sans', 'Liberation Sans', sans-serif" font-size="14.00" fill="#1a1a1a">s=1</text>
<path d="M71.2,213.68 H100.7" stroke="#a985ca" stroke-width="1.70"/>
<text x="112.2" y="218.58" font-family="'DejaVu Sans', 'Liberation Sans', sans-serif" font-size="14.00" fill="#1a1a1a">Truth Data</text>
<text x="277.7" y="304.50" style="stroke:none" font-family="'Liberation Serif', serif" font-size="17.00" fill="#1a1a1a" text-anchor="middle"><tspan dy="-1">(</tspan><tspan dy="1" font-weight="bold">a</tspan><tspan dy="-1">)</tspan></text>
</g>
<g>
<clipPath id="clipb"><rect x="59.50" y="317.30" width="478.80" height="229.10"/></clipPath>
<g clip-path="url(#clipb)" fill="none" stroke-width="1.65" stroke-linejoin="round" stroke-linecap="butt">
<path d="M354.50,463.50 L355.50,463.26 L356.50,464.44 L357.50,464.43 L358.57,464.84 L359.65,465.45 L360.73,465.44 L361.80,466.06 L362.90,466.11 L364.00,466.17 L365.10,466.58 L366.20,466.87 L367.40,467.86 L368.60,468.04 L369.80,468.32 L371.30,449.28 L372.32,449.96 L373.34,450.73 L374.36,451.28 L375.38,453.18 L376.40,454.11 L377.56,455.04 L378.72,455.84 L379.88,456.68 L381.04,457.98 L382.20,459.20 L383.36,459.76 L384.52,460.47 L385.68,461.05 L386.84,462.13 L388.00,462.81 L389.16,463.24 L390.32,464.80 L391.48,465.70 L392.64,466.59 L393.80,467.04 L394.96,467.59 L396.12,467.74 L397.28,469.18 L398.44,468.46 L399.60,469.82 L400.78,470.43 L401.96,471.55 L403.14,471.74 L404.32,471.89 L405.50,472.26 L406.66,473.29 L407.82,474.39 L408.98,475.08 L410.14,475.69 L411.30,476.19 L412.38,476.78 L413.45,477.70 L414.53,477.13 L415.60,478.02 L416.68,479.73 L417.76,480.25 L418.84,480.79 L419.92,482.30 L421.00,482.66 L422.00,482.93 L423.00,483.55 L424.00,483.63 L425.00,481.93 L426.20,483.62 L427.40,484.78 L428.60,484.25 L429.83,485.98 L431.07,487.91 L432.30,488.38 L433.50,490.04 L434.70,491.04 L435.90,491.43 L437.10,493.96 L438.30,495.22 L439.50,497.22 L440.57,499.28 L441.63,500.17 L442.70,501.23 L444.10,479.70 L445.45,480.74 L446.80,482.26 L448.03,481.62 L449.27,482.21 L450.50,482.28 L451.70,483.77 L452.90,483.79 L454.10,483.81 L455.30,484.37 L456.50,485.04 L457.70,485.48 L458.93,486.52 L460.17,487.21 L461.40,488.83 L462.60,488.95 L463.80,489.03 L465.00,489.74 L466.20,491.31 L467.40,491.74 L468.60,492.43 L469.83,493.52 L471.07,494.81 L472.30,494.45 L473.65,495.36 L475.00,495.62 L476.15,498.17 L477.30,499.33 L478.43,499.10 L479.55,498.96 L480.68,499.51 L481.80,499.04 L483.03,499.93 L484.27,501.80 L485.50,501.83 L486.70,502.93 L487.90,505.87 L489.10,505.73 L490.30,506.56 L491.50,507.37 L492.70,508.54 L493.93,510.49 L495.17,512.01 L496.40,513.44 L497.60,514.57 L498.80,515.53 L500.00,517.83 L501.20,519.15 L502.40,519.71 L503.60,519.92 L504.75,520.94 L505.90,520.98 L507.05,521.70 L508.20,521.74 L509.40,522.29 L510.60,522.63 L511.80,522.62 L512.80,523.51 L513.80,524.47 L514.80,524.67 L515.80,524.40 L516.80,524.67" stroke="#1f77b4"/>
<path d="M354.50,464.20 L355.50,463.67 L356.50,463.29 L357.50,463.52 L358.57,464.41 L359.65,465.03 L360.73,465.76 L361.80,466.47 L362.90,466.69 L364.00,466.77 L365.10,468.23 L366.20,468.27 L367.40,468.12 L368.60,468.86 L369.80,469.74 L371.30,450.41 L372.32,451.99 L373.34,452.90 L374.36,453.94 L375.38,454.97 L376.40,456.00 L377.56,456.69 L378.72,457.42 L379.88,458.03 L381.04,458.16 L382.20,459.74 L383.36,461.49 L384.52,461.32 L385.68,462.16 L386.84,463.78 L388.00,464.24 L389.16,464.84 L390.32,466.62 L391.48,467.06 L392.64,467.98 L393.80,468.25 L394.96,469.32 L396.12,469.87 L397.28,470.65 L398.44,471.42 L399.60,472.01 L400.78,472.30 L401.96,473.25 L403.14,473.14 L404.32,474.67 L405.50,475.41 L406.66,475.65 L407.82,476.19 L408.98,477.23 L410.14,477.43 L411.30,478.85 L412.38,479.56 L413.45,479.72 L414.53,480.90 L415.60,482.08 L416.68,483.16 L417.76,484.21 L418.84,484.77 L419.92,485.77 L421.00,486.82 L422.00,487.79 L423.00,489.11 L424.00,489.21 L425.00,489.81 L426.20,490.77 L427.40,490.51 L428.60,492.21 L429.83,493.31 L431.07,495.26 L432.30,496.66 L433.50,496.50 L434.70,497.72 L435.90,498.85 L437.10,499.61 L438.30,500.78 L439.50,502.00 L440.43,503.60 L441.37,503.69 L442.30,505.51 L443.40,493.69 L444.50,482.64 L445.65,484.35 L446.80,484.70 L448.03,485.23 L449.27,486.39 L450.50,486.34 L451.70,487.24 L452.90,488.28 L454.10,489.17 L455.30,489.31 L456.50,490.46 L457.70,491.66 L458.93,492.90 L460.17,492.32 L461.40,494.69 L462.60,495.40 L463.80,495.41 L465.00,496.14 L466.20,498.05 L467.40,498.75 L468.60,500.06 L469.83,501.15 L471.07,501.37 L472.30,502.37 L473.65,503.16 L475.00,504.00 L476.15,505.79 L477.30,507.16 L478.50,507.11 L479.70,507.49 L480.90,509.26 L482.10,509.55 L483.30,510.52 L484.50,510.91 L485.73,512.95 L486.97,513.45 L488.20,514.80 L489.32,515.08 L490.45,516.12 L491.57,517.05 L492.70,517.03 L493.93,518.23 L495.17,519.53 L496.40,519.93 L497.60,521.44 L498.80,523.13 L500.00,524.37 L501.20,526.18 L502.40,526.36 L503.60,528.04 L504.83,528.88 L506.07,528.70 L507.30,530.02 L508.50,530.55 L509.70,531.02 L510.90,532.15 L512.00,532.73 L513.10,533.70 L514.20,534.38 L515.30,533.97 L516.40,534.82" stroke="#ff7f0e"/>
<path d="M354.50,462.00 L355.50,462.00 L356.50,462.06 L357.50,460.20 L358.57,462.60 L359.65,462.67 L360.73,464.16 L361.80,464.01 L362.90,464.18 L364.00,464.92 L365.10,465.77 L366.20,465.61 L367.40,465.37 L368.60,467.57 L369.80,467.38 L371.30,447.06 L372.32,447.84 L373.34,448.39 L374.36,449.52 L375.38,450.50 L376.40,451.52 L377.56,452.66 L378.72,453.41 L379.88,453.77 L381.04,455.24 L382.20,456.64 L383.36,457.35 L384.52,457.70 L385.68,458.64 L386.84,459.48 L388.00,460.41 L389.16,461.88 L390.32,462.30 L391.48,463.64 L392.64,465.74 L393.80,467.10 L394.96,467.51 L396.12,466.19 L397.28,467.56 L398.44,466.62 L399.60,468.83 L400.78,469.27 L401.96,470.00 L403.14,470.66 L404.32,472.05 L405.50,472.07 L406.66,473.38 L407.82,473.89 L408.98,474.52 L410.14,475.29 L411.30,475.85 L412.38,476.23 L413.45,477.97 L414.53,478.90 L415.60,479.44 L416.68,480.73 L417.76,481.70 L418.84,481.62 L419.92,483.04 L421.00,483.80 L422.00,483.97 L423.00,484.90 L424.00,484.75 L425.00,485.30 L426.20,486.21 L427.40,486.86 L428.60,487.44 L429.83,489.51 L431.07,489.47 L432.30,491.01 L433.50,491.26 L434.70,492.92 L435.90,494.12 L437.10,495.38 L438.30,495.78 L439.50,497.17 L440.57,498.93 L441.63,499.39 L442.70,500.93 L444.10,480.46 L445.45,482.67 L446.80,483.66 L448.03,484.01 L449.27,484.04 L450.50,484.93 L451.70,485.83 L452.90,486.65 L454.10,487.25 L455.30,487.94 L456.50,488.85 L457.70,490.13 L458.93,489.36 L460.17,490.42 L461.40,491.10 L462.60,492.26 L463.80,492.55 L465.00,494.35 L466.20,494.91 L467.40,495.52 L468.60,496.09 L469.83,496.90 L471.07,497.35 L472.30,497.85 L473.65,497.82 L475.00,498.89 L476.15,499.54 L477.30,502.36 L478.43,500.99 L479.55,502.68 L480.68,502.98 L481.80,504.46 L483.03,504.33 L484.27,506.72 L485.50,506.10 L486.70,508.78 L487.90,509.13 L489.10,510.01 L490.23,511.22 L491.35,513.04 L492.48,513.48 L493.60,513.09 L494.83,515.54 L496.07,516.00 L497.30,516.07 L498.43,518.07 L499.55,518.11 L500.68,519.66 L501.80,520.60 L502.95,521.11 L504.10,522.59 L505.25,522.74 L506.40,524.19 L507.52,524.75 L508.65,525.82 L509.77,527.67 L510.90,527.75 L512.08,527.95 L513.26,529.13 L514.44,529.57 L515.62,530.67 L516.80,531.47" stroke="#2ca02c"/>
<path d="M354.50,461.30 L355.50,460.60 L356.50,459.87 L357.50,458.85 L358.47,459.77 L359.43,460.51 L360.40,460.22 L361.37,461.54 L362.33,462.66 L363.30,464.26 L364.38,464.31 L365.45,463.62 L366.53,464.11 L367.60,463.53 L368.70,464.12 L369.80,464.91 L371.30,444.78 L372.50,445.93 L373.70,446.36 L374.90,446.89 L376.10,448.15 L377.30,448.36 L378.50,449.09 L379.52,449.99 L380.54,451.26 L381.56,452.25 L382.58,453.36 L383.60,453.79 L384.78,454.89 L385.96,454.65 L387.14,455.36 L388.32,456.60 L389.50,456.36 L390.66,456.84 L391.82,459.19 L392.98,460.13 L394.14,461.35 L395.30,462.09 L396.46,463.04 L397.62,463.66 L398.78,464.33 L399.94,466.21 L401.10,466.23 L402.26,467.04 L403.42,467.92 L404.58,469.82 L405.74,470.24 L406.90,470.53 L408.00,471.40 L409.10,472.38 L410.20,473.27 L411.30,472.88 L412.27,473.31 L413.23,472.10 L414.20,471.19 L415.17,471.79 L416.13,472.79 L417.10,473.69 L418.08,473.64 L419.05,474.50 L420.02,474.56 L421.00,475.82 L422.00,476.17 L423.00,475.33 L424.00,475.97 L425.00,476.76 L426.35,476.06 L427.70,477.13 L428.63,478.94 L429.57,479.27 L430.50,481.22 L431.85,482.52 L433.20,484.00 L434.55,483.72 L435.90,485.50 L437.25,486.49 L438.60,488.24 L439.83,489.46 L441.07,490.32 L442.30,491.62 L443.60,467.82 L444.75,467.79 L445.90,467.75 L447.25,469.19 L448.60,470.92 L449.83,471.03 L451.07,473.02 L452.30,473.91 L453.65,474.50 L455.00,476.56 L456.20,476.84 L457.40,478.44 L458.60,479.13 L459.83,479.25 L461.07,479.90 L462.30,482.73 L463.50,482.52 L464.70,483.08 L465.90,484.81 L467.25,485.71 L468.60,486.50 L469.53,485.74 L470.47,485.07 L471.40,484.13 L472.75,484.64 L474.10,484.34 L475.50,485.75 L476.85,487.52 L478.20,488.74 L479.32,489.32 L480.45,488.94 L481.57,489.23 L482.70,488.98 L483.93,491.41 L485.17,491.34 L486.40,493.29 L487.52,493.70 L488.65,495.15 L489.77,496.23 L490.90,496.06 L492.05,497.63 L493.20,497.86 L494.35,500.21 L495.50,500.30 L496.70,500.69 L497.90,501.98 L499.10,503.79 L500.23,504.44 L501.35,504.92 L502.48,504.57 L503.60,505.43 L504.75,507.24 L505.90,507.17 L507.05,508.35 L508.20,509.07 L509.40,509.91 L510.60,511.91 L511.80,512.58 L512.80,513.22 L513.80,514.00 L514.80,514.92 L515.80,515.86 L516.80,515.90" stroke="#d62728"/>
<path d="M80.80,381.85 L81.20,367.93 L81.50,360.42 L81.60,358.64 L82.00,352.52 L82.40,347.86 L82.80,344.40 L82.80,344.40 L83.20,341.49 L83.60,338.81 L84.00,336.71 L84.40,335.50 L84.60,335.33 L84.80,335.47 L85.20,336.43 L85.60,337.95 L86.00,339.60 L86.40,340.97 L86.50,341.22 L86.80,341.93 L87.20,342.88 L87.60,343.71 L88.00,344.26 L88.30,344.40 L88.40,344.40 L88.80,344.24 L89.20,343.92 L89.60,343.48 L90.00,342.96 L90.40,342.42 L90.50,342.28 L90.80,341.75 L91.20,340.74 L91.60,339.53 L92.00,338.26 L92.40,337.12 L92.80,336.25 L93.20,335.82 L93.30,335.80 L93.60,336.03 L94.00,336.92 L94.40,338.26 L94.80,339.81 L95.20,341.32 L95.50,342.28 L95.60,342.57 L96.00,343.86 L96.40,345.28 L96.80,346.73 L97.20,348.11 L97.60,349.32 L98.00,350.27 L98.40,350.85 L98.70,351.00 L98.80,350.99 L99.20,350.74 L99.60,350.20 L100.00,349.41 L100.40,348.39 L100.80,347.18 L101.00,346.52 L101.20,345.32 L101.60,340.61 L102.00,334.59 L102.40,329.41 L102.80,327.21 L102.80,327.21 L103.20,328.39 L103.60,331.43 L104.00,335.57 L104.40,340.07 L104.80,344.17 L105.10,346.52 L105.20,347.17 L105.60,349.87 L106.00,352.64 L106.40,355.33 L106.80,357.81 L107.20,359.93 L107.60,361.55 L108.00,362.54 L108.30,362.77 L108.40,362.72 L108.80,361.50 L109.20,359.15 L109.60,356.25 L110.00,353.38 L110.40,351.15 L110.50,350.76 L110.80,349.69 L111.20,348.27 L111.60,346.96 L112.00,345.88 L112.40,345.14 L112.80,344.87 L112.80,344.87 L113.20,345.12 L113.60,345.78 L114.00,346.72 L114.40,347.81 L114.80,348.93 L115.10,349.70 L115.20,349.96 L115.60,351.15 L116.00,352.58 L116.40,354.13 L116.80,355.73 L117.20,357.26 L117.60,358.65 L118.00,359.80 L118.40,360.61 L118.80,360.99 L118.90,361.01 L119.20,360.85 L119.60,360.23 L120.00,359.26 L120.40,358.10 L120.80,356.90 L121.20,355.79 L121.50,355.12 L121.60,354.92 L122.00,354.04 L122.40,353.13 L122.80,352.30 L123.20,351.68 L123.60,351.37 L123.70,351.35 L124.00,351.50 L124.40,352.11 L124.80,353.07 L125.20,354.24 L125.60,355.49 L126.00,356.69 L126.40,357.71 L126.40,357.71 L126.80,358.68 L127.20,359.76 L127.60,360.87 L128.00,361.94 L128.40,362.88 L128.80,363.62 L129.20,364.08 L129.50,364.19 L129.60,364.18 L130.00,364.09 L130.40,363.88 L130.80,363.60 L131.20,363.27 L131.60,362.91 L132.00,362.55 L132.40,362.23 L132.80,361.96 L133.20,361.78 L133.60,361.71 L133.60,361.71 L134.00,361.83 L134.40,362.16 L134.80,362.66 L135.20,363.31 L135.60,364.08 L136.00,364.93 L136.40,365.84 L136.40,365.84 L136.80,367.13 L137.20,369.04 L137.60,371.35 L138.00,373.82 L138.40,376.25 L138.80,378.42 L139.10,379.73 L139.20,380.13 L139.60,381.79 L140.00,383.43 L140.40,384.83 L140.80,385.74 L141.10,385.98 L141.20,385.96 L141.60,385.63 L142.00,384.94 L142.40,383.99 L142.80,382.91 L143.20,381.80 L143.60,380.76 L144.00,379.91 L144.10,379.73 L144.40,379.23 L144.80,378.51 L145.20,377.80 L145.60,377.12 L146.00,376.53 L146.40,376.08 L146.80,375.80 L147.10,375.73 L147.20,375.74 L147.60,376.06 L148.00,376.71 L148.40,377.61 L148.80,378.67 L149.20,379.79 L149.60,380.88 L150.00,381.85 L150.00,381.85 L150.40,382.88 L150.80,384.08 L151.20,385.28 L151.60,386.31 L152.00,386.98 L152.30,387.15 L152.40,387.15 L152.80,386.96 L153.20,386.60 L153.60,386.15 L154.00,385.69 L154.40,385.30 L154.80,385.07 L155.00,385.03 L155.20,385.07 L155.60,385.31 L156.00,385.75 L156.40,386.31 L156.80,386.94 L157.20,387.59 L157.30,387.74 L157.60,388.31 L158.00,389.33 L158.40,390.53 L158.80,391.81 L159.20,393.04 L159.60,394.11 L160.00,394.89 L160.40,395.26 L160.50,395.28 L160.80,395.26 L161.20,395.19 L161.60,395.06 L162.00,394.87 L162.30,394.69 L162.40,394.46 L162.80,390.93 L163.20,385.01 L163.60,379.15 L164.00,375.78 L164.10,375.61 L164.40,375.78 L164.80,376.47 L165.20,377.55 L165.60,378.90 L166.00,380.38 L166.40,381.85 L166.40,381.85 L166.80,383.75 L167.20,386.33 L167.60,389.22 L168.00,392.04 L168.40,394.40 L168.80,395.95 L169.10,396.34 L169.20,396.33 L169.60,396.06 L170.00,395.49 L170.40,394.70 L170.80,393.73 L171.20,392.68 L171.60,391.60 L172.00,390.57 L172.30,389.86 L172.40,389.63 L172.80,388.51 L173.20,387.23 L173.60,386.02 L174.00,385.07 L174.40,384.59 L174.50,384.56 L174.80,384.74 L175.20,385.47 L175.60,386.60 L176.00,387.99 L176.40,389.48 L176.80,390.92 L176.80,390.92 L177.20,392.56 L177.60,394.66 L178.00,397.04 L178.40,399.54 L178.80,402.00 L179.20,404.25 L179.60,406.12 L180.00,407.46 L180.40,408.09 L180.50,408.12 L180.80,407.84 L181.20,406.75 L181.60,405.15 L182.00,403.33 L182.40,401.61 L182.70,400.58 L182.80,400.29 L183.20,399.04 L183.60,397.74 L184.00,396.42 L184.40,395.16 L184.80,393.99 L185.20,392.99 L185.60,392.21 L186.00,391.69 L186.40,391.51 L186.40,391.51 L186.80,391.57 L187.20,391.74 L187.60,391.95 L188.00,392.19 L188.40,392.39 L188.80,392.54 L189.10,392.57 L189.20,392.57 L189.60,392.46 L190.00,392.25 L190.40,391.97 L190.80,391.65 L191.20,391.33 L191.60,391.04 L191.80,390.92 L192.00,390.81 L192.40,390.57 L192.80,390.31 L193.20,390.06 L193.60,389.83 L194.00,389.63 L194.40,389.48 L194.80,389.40 L195.00,389.39 L195.20,389.42 L195.60,389.67 L196.00,390.09 L196.40,390.64 L196.80,391.24 L197.20,391.84 L197.30,391.98 L197.60,392.47 L198.00,393.29 L198.40,394.25 L198.80,395.29 L199.20,396.37 L199.60,397.41 L200.00,398.35 L200.40,399.15 L200.80,399.74 L201.20,400.07 L201.40,400.11 L201.60,400.08 L202.00,399.91 L202.40,399.60 L202.80,399.20 L203.20,398.75 L203.60,398.31 L204.00,397.91 L204.40,397.60 L204.80,397.42 L205.00,397.40 L205.20,397.44 L205.60,397.73 L206.00,398.24 L206.40,398.90 L206.80,399.63 L207.20,400.36 L207.60,401.02 L207.70,401.17 L208.00,401.63 L208.40,402.32 L208.80,403.06 L209.20,403.83 L209.60,404.56 L210.00,405.23 L210.40,405.80 L210.80,406.21 L211.20,406.44 L211.40,406.47 L211.60,406.44 L212.00,406.22 L212.40,405.83 L212.80,405.35 L213.20,404.81 L213.60,404.30 L214.00,403.85 L214.10,403.76 L214.40,403.48 L214.80,403.07 L215.20,402.65 L215.60,402.26 L216.00,401.94 L216.40,401.72 L216.80,401.64 L216.80,401.64 L217.20,401.86 L217.60,402.45 L218.00,403.29 L218.40,404.28 L218.80,405.29 L219.10,406.00 L219.20,406.23 L219.60,407.26 L220.00,408.43 L220.40,409.66 L220.80,410.88 L221.20,412.02 L221.60,413.00 L221.80,413.42 L222.00,413.81 L222.40,414.63 L222.80,415.37 L223.20,415.92 L223.60,416.13 L223.60,416.13 L224.00,415.95 L224.40,415.51 L224.80,414.93 L225.20,414.31 L225.60,413.78 L226.00,413.46 L226.20,413.42 L226.40,413.48 L226.80,413.95 L227.20,414.77 L227.60,415.84 L228.00,417.04 L228.40,418.26 L228.60,418.83 L228.80,419.46 L229.20,420.99 L229.60,422.72 L230.00,424.47 L230.40,426.00 L230.80,427.12 L230.90,427.31 L231.20,427.83 L231.60,428.44 L232.00,428.86 L232.30,428.96 L232.40,428.91 L232.80,427.68 L233.20,425.23 L233.60,422.04 L234.00,418.61 L234.10,417.77 L234.40,414.36 L234.80,408.29 L235.20,402.99 L235.50,401.17 L235.60,401.02 L236.00,400.53 L236.40,400.22 L236.80,400.11 L236.80,400.11 L237.20,400.21 L237.60,400.48 L238.00,400.91 L238.40,401.47 L238.80,402.14 L239.10,402.70 L239.20,402.94 L239.60,404.67 L240.00,407.34 L240.40,410.51 L240.80,413.75 L241.20,416.61 L241.40,417.77 L241.60,418.86 L242.00,421.17 L242.40,423.45 L242.80,425.41 L243.20,426.79 L243.60,427.31 L243.60,427.31 L244.00,426.96 L244.40,426.08 L244.80,424.93 L245.20,423.78 L245.50,423.07 L245.60,422.87 L246.00,421.96 L246.40,421.04 L246.80,420.30 L247.20,419.91 L247.30,419.89 L247.60,420.02 L248.00,420.52 L248.40,421.31 L248.80,422.28 L249.20,423.32 L249.60,424.33 L250.00,425.19 L250.00,425.19 L250.40,426.03 L250.80,426.97 L251.20,427.95 L251.60,428.90 L252.00,429.75 L252.40,430.45 L252.80,430.91 L253.20,431.08 L253.20,431.08 L253.60,430.99 L254.00,430.72 L254.40,430.33 L254.80,429.86 L255.20,429.34 L255.60,428.81 L256.00,428.32 L256.40,427.90 L256.40,427.90 L256.80,427.49 L257.20,427.04 L257.60,426.61 L258.00,426.25 L258.40,426.05 L258.60,426.02 L258.80,426.04 L259.20,426.16 L259.60,426.36 L260.00,426.61 L260.40,426.85 L260.80,427.06 L261.20,427.18 L261.40,427.20 L261.60,427.20 L262.00,427.20 L262.40,427.20 L262.80,427.20 L263.20,427.20 L263.60,427.20 L264.00,427.20 L264.10,427.20 L264.40,427.17 L264.80,427.06 L265.20,426.88 L265.60,426.67 L266.00,426.43 L266.40,426.20 L266.80,426.00 L267.20,425.86 L267.60,425.79 L267.70,425.78 L268.00,425.88 L268.40,426.29 L268.80,426.94 L269.20,427.76 L269.60,428.66 L270.00,429.57 L270.40,430.42 L270.50,430.61 L270.80,431.23 L271.20,432.19 L271.60,433.26 L272.00,434.36 L272.40,435.42 L272.80,436.39 L273.20,437.19 L273.60,437.75 L274.00,438.02 L274.10,438.03 L274.40,438.02 L274.80,437.96 L275.20,437.86 L275.60,437.74 L276.00,437.61 L276.40,437.47 L276.80,437.34 L277.20,437.23 L277.30,437.21 L277.60,437.14 L278.00,437.04 L278.40,436.93 L278.80,436.83 L279.20,436.73 L279.60,436.64 L280.00,436.57 L280.40,436.52 L280.80,436.50 L280.90,436.50 L281.20,436.56 L281.60,436.78 L282.00,437.12 L282.40,437.54 L282.80,437.98 L283.20,438.39 L283.60,438.73 L284.00,438.95 L284.10,438.97 L284.40,439.04 L284.80,439.10 L285.20,439.16 L285.60,439.20 L286.00,439.24 L286.40,439.27 L286.80,439.31 L287.20,439.36 L287.60,439.43 L287.70,439.45 L288.00,439.50 L288.40,439.59 L288.80,439.69 L289.20,439.80 L289.60,439.93 L290.00,440.07 L290.40,440.24 L290.80,440.42 L291.20,440.63 L291.40,440.74 L291.60,440.88 L292.00,441.31 L292.40,441.88 L292.80,442.57 L293.20,443.34 L293.60,444.14 L294.00,444.93 L294.40,445.68 L294.80,446.34 L295.00,446.63 L295.20,446.91 L295.60,447.53 L296.00,448.15 L296.40,448.71 L296.80,449.12 L297.20,449.33 L297.30,449.34 L297.60,449.27 L298.00,448.98 L298.40,448.52 L298.80,447.98 L299.20,447.39 L299.60,446.84 L300.00,446.38 L300.40,446.08 L300.50,446.04 L300.80,445.94 L301.20,445.81 L301.60,445.68 L302.00,445.57 L302.40,445.47 L302.80,445.39 L303.20,445.32 L303.60,445.27 L304.00,445.23 L304.40,445.22 L304.50,445.22 L304.80,445.24 L305.20,445.35 L305.60,445.50 L306.00,445.67 L306.40,445.84 L306.80,445.97 L307.20,446.04 L307.30,446.04 L307.60,440.64 L308.00,427.83 L308.20,425.19 L308.40,425.22 L308.80,425.43 L309.20,425.81 L309.60,426.32 L310.00,426.92 L310.40,427.56 L310.80,428.22 L310.90,428.37 L311.20,428.92 L311.60,429.84 L312.00,430.94 L312.40,432.15 L312.80,433.42 L313.20,434.70 L313.60,435.93 L314.00,437.07 L314.40,438.04 L314.80,438.81 L315.00,439.09 L315.20,439.34 L315.60,439.80 L316.00,440.23 L316.40,440.62 L316.80,440.96 L317.20,441.26 L317.60,441.51 L318.00,441.72 L318.20,441.80 L318.40,441.87 L318.80,441.98 L319.20,442.06 L319.60,442.13 L320.00,442.22 L320.40,442.35 L320.50,442.39 L320.80,442.56 L321.20,442.93 L321.60,443.41 L322.00,443.96 L322.40,444.54 L322.80,445.09 L323.20,445.57 L323.20,445.57 L323.60,446.04 L324.00,446.57 L324.40,447.10 L324.80,447.58 L325.20,447.97 L325.60,448.22 L325.90,448.28 L326.00,448.26 L326.40,447.92 L326.80,447.23 L327.20,446.33 L327.60,445.35 L328.00,444.43 L328.40,443.70 L328.60,443.45 L328.80,443.25 L329.20,442.84 L329.60,442.46 L330.00,442.14 L330.40,441.91 L330.80,441.81 L330.90,441.80 L331.20,441.88 L331.60,442.18 L332.00,442.65 L332.40,443.24 L332.80,443.88 L333.20,444.51 L333.20,444.51 L333.60,445.26 L334.00,446.21 L334.40,447.23 L334.80,448.19 L335.20,448.96 L335.50,449.34 L335.60,449.43 L336.00,449.77 L336.40,450.07 L336.80,450.29 L337.20,450.39 L337.30,450.40 L337.60,450.34 L338.00,450.13 L338.40,449.79 L338.80,449.38 L339.20,448.93 L339.60,448.49 L340.00,448.11 L340.40,447.83 L340.80,447.70 L340.90,447.69 L341.20,447.77 L341.60,448.10 L342.00,448.63 L342.40,449.30 L342.80,450.03 L343.20,450.77 L343.60,451.46 L343.60,451.46 L344.00,452.14 L344.40,452.89 L344.80,453.68 L345.20,454.48 L345.60,455.26 L346.00,455.99 L346.40,456.64 L346.40,456.64 L346.80,457.29 L347.20,457.98 L347.60,458.62 L348.00,459.13 L348.40,459.43 L348.60,459.47 L348.80,459.43 L349.20,459.19 L349.60,458.80 L350.00,458.38 L350.40,458.02 L350.80,457.83 L350.90,457.82 L351.20,457.88 L351.60,458.15 L352.00,458.58 L352.40,459.14 L352.80,459.77 L353.20,460.45 L353.60,461.12 L353.60,461.12 L354.00,461.90 L354.40,462.91 L354.80,464.03 L355.20,465.20 L355.60,466.32 L356.00,467.30 L356.40,468.06 L356.40,468.06 L356.80,468.71 L357.20,469.33 L357.60,469.84 L358.00,470.14 L358.20,470.18 L358.40,470.15 L358.80,469.93 L359.20,469.56 L359.60,469.08 L360.00,468.58 L360.40,468.10 L360.80,467.73 L361.20,467.51 L361.40,467.48 L361.60,467.51 L362.00,467.75 L362.40,468.19 L362.80,468.79 L363.20,469.50 L363.60,470.26 L364.00,471.05 L364.10,471.24 L364.40,471.95 L364.80,473.21 L365.20,474.65 L365.60,476.09 L366.00,477.33 L366.40,478.19 L366.40,478.19 L366.80,478.80 L367.20,479.37 L367.60,479.89 L368.00,480.32 L368.40,480.65 L368.80,480.85 L369.10,480.90 L369.20,480.90 L369.60,480.87 L370.00,480.78 L370.40,480.63 L370.80,480.39 L370.90,480.31 L371.20,465.00 L371.50,449.81 L371.60,449.81 L372.00,449.89 L372.40,450.05 L372.80,450.28 L373.20,450.56 L373.60,450.87 L373.60,450.87 L374.00,451.36 L374.40,452.14 L374.80,453.10 L375.20,454.14 L375.60,455.17 L376.00,456.07 L376.40,456.76 L376.40,456.76 L376.80,457.30 L377.20,457.81 L377.60,458.30 L378.00,458.72 L378.40,459.08 L378.80,459.34 L379.10,459.47 L379.20,459.50 L379.60,459.60 L380.00,459.68 L380.40,459.74 L380.80,459.80 L381.20,459.85 L381.60,459.91 L382.00,459.99 L382.30,460.06 L382.40,460.08 L382.80,460.20 L383.20,460.33 L383.60,460.48 L384.00,460.64 L384.40,460.82 L384.80,461.01 L385.20,461.21 L385.60,461.42 L385.90,461.59 L386.00,461.64 L386.40,461.89 L386.80,462.16 L387.20,462.46 L387.60,462.79 L388.00,463.14 L388.40,463.51 L388.60,463.71 L388.80,463.93 L389.20,464.52 L389.60,465.21 L390.00,465.94 L390.40,466.60 L390.80,467.13 L391.20,467.43 L391.40,467.48 L391.60,467.47 L392.00,467.40 L392.40,467.28 L392.80,467.12 L393.20,466.95 L393.60,466.77 L394.00,466.62 L394.40,466.49 L394.80,466.42 L395.00,466.42 L395.20,466.42 L395.60,466.43 L396.00,466.44 L396.40,466.47 L396.80,466.49 L397.20,466.52 L397.30,466.53 L397.60,466.57 L398.00,466.64 L398.40,466.75 L398.80,466.88 L399.20,467.03 L399.60,467.20 L400.00,467.40 L400.40,467.61 L400.80,467.83 L401.20,468.06 L401.60,468.30 L401.60,468.30 L402.00,468.60 L402.40,469.01 L402.80,469.49 L403.20,470.03 L403.60,470.60 L404.00,471.18 L404.40,471.75 L404.80,472.27 L405.20,472.73 L405.60,473.10 L406.00,473.36 L406.00,473.36 L406.40,473.55 L406.80,473.70 L407.20,473.84 L407.60,473.96 L408.00,474.06 L408.40,474.15 L408.80,474.24 L409.20,474.33 L409.60,474.42 L410.00,474.51 L410.40,474.62 L410.80,474.74 L411.20,474.88 L411.60,475.04 L411.80,475.13 L412.00,475.24 L412.40,475.56 L412.80,475.97 L413.20,476.45 L413.60,476.98 L414.00,477.51 L414.40,478.03 L414.80,478.50 L415.20,478.90 L415.60,479.19 L416.00,479.35 L416.20,479.37 L416.40,479.35 L416.80,479.19 L417.20,478.92 L417.60,478.59 L418.00,478.25 L418.40,477.96 L418.80,477.77 L419.10,477.72 L419.20,477.72 L419.60,477.78 L420.00,477.89 L420.40,478.06 L420.80,478.27 L421.20,478.52 L421.60,478.79 L422.00,479.08 L422.40,479.39 L422.80,479.69 L423.20,479.98 L423.50,480.19 L423.60,480.27 L424.00,480.66 L424.40,481.07 L424.80,481.36 L425.00,481.40 L425.20,481.40 L425.60,481.37 L426.00,481.34 L426.40,481.29 L426.80,481.25 L427.20,481.22 L427.60,481.20 L427.70,481.20 L428.00,481.21 L428.40,481.23 L428.80,481.28 L429.20,481.34 L429.60,481.41 L430.00,481.49 L430.40,481.58 L430.50,481.60 L430.80,481.67 L431.20,481.77 L431.60,481.90 L432.00,482.06 L432.40,482.24 L432.80,482.45 L433.20,482.70 L433.20,482.70 L433.60,483.06 L434.00,483.58 L434.40,484.29 L434.50,484.50 L434.80,485.35 L435.20,487.04 L435.50,488.60 L435.60,489.20 L436.00,492.34 L436.40,495.90 L436.40,495.90 L436.80,499.45 L437.20,503.16 L437.30,504.10 L437.60,507.15 L438.00,511.47 L438.40,515.32 L438.60,516.80 L438.80,518.09 L439.20,520.65 L439.60,522.92 L440.00,524.63 L440.40,525.46 L440.50,525.50 L440.80,525.34 L441.20,524.70 L441.60,523.69 L442.00,522.43 L442.30,521.40 L442.40,521.04 L442.80,519.16 L443.20,515.90 L443.20,515.90 L443.60,499.03 L444.00,479.77 L444.10,478.60 L444.40,478.60 L444.80,478.60 L445.20,478.60 L445.60,478.60 L445.90,478.60 L446.00,478.61 L446.40,478.79 L446.80,479.13 L447.20,479.53 L447.60,479.92 L447.70,480.00 L448.00,480.27 L448.40,480.67 L448.80,481.06 L449.20,481.33 L449.50,481.40 L449.60,481.39 L450.00,481.08 L450.40,480.51 L450.80,479.85 L451.20,479.29 L451.40,479.10 L451.60,478.95 L452.00,478.65 L452.40,478.37 L452.80,478.12 L453.20,477.91 L453.60,477.77 L454.00,477.70 L454.10,477.70 L454.40,477.72 L454.80,477.78 L455.20,477.89 L455.60,478.02 L456.00,478.18 L456.40,478.34 L456.80,478.50 L456.80,478.50 L457.20,478.67 L457.60,478.88 L458.00,479.11 L458.40,479.36 L458.80,479.60 L459.20,479.84 L459.50,480.00 L459.60,480.05 L460.00,480.25 L460.40,480.43 L460.80,480.61 L461.20,480.79 L461.60,480.99 L462.00,481.21 L462.30,481.40 L462.40,481.47 L462.80,481.78 L463.20,482.13 L463.60,482.53 L464.00,482.96 L464.40,483.40 L464.80,483.87 L465.00,484.10 L465.20,484.34 L465.60,484.83 L466.00,485.36 L466.40,485.91 L466.80,486.51 L467.20,487.14 L467.30,487.30 L467.60,487.78 L468.00,488.43 L468.40,489.16 L468.80,490.06 L469.10,490.90 L469.20,491.25 L469.60,493.33 L470.00,496.06 L470.40,498.86 L470.50,499.50 L470.80,501.54 L471.20,504.45 L471.60,506.88 L471.80,507.70 L472.00,508.33 L472.40,509.51 L472.80,510.49 L473.20,511.15 L473.60,511.40 L473.60,511.40 L474.00,511.05 L474.40,510.16 L474.80,508.96 L475.20,507.68 L475.50,506.80 L475.60,506.52 L476.00,505.29 L476.40,503.96 L476.80,502.69 L477.20,501.62 L477.30,501.40 L477.60,500.80 L478.00,500.05 L478.40,499.36 L478.80,498.74 L479.20,498.19 L479.60,497.71 L480.00,497.30 L480.00,497.30 L480.40,496.94 L480.80,496.60 L481.20,496.28 L481.60,495.99 L482.00,495.72 L482.40,495.48 L482.80,495.28 L483.20,495.12 L483.60,495.00 L483.60,495.00 L484.00,494.90 L484.40,494.81 L484.80,494.73 L485.20,494.65 L485.60,494.59 L486.00,494.54 L486.40,494.51 L486.80,494.50 L486.80,494.50 L487.20,494.60 L487.60,494.88 L488.00,495.29 L488.40,495.79 L488.80,496.36 L489.10,496.80 L489.20,496.96 L489.60,497.81 L490.00,498.90 L490.40,500.06 L490.80,501.16 L490.90,501.40 L491.20,502.17 L491.60,503.31 L492.00,504.44 L492.40,505.43 L492.80,506.13 L493.20,506.40 L493.20,506.40 L493.60,506.28 L494.00,505.96 L494.40,505.51 L494.80,504.99 L495.20,504.46 L495.50,504.10 L495.60,503.98 L496.00,503.40 L496.40,502.76 L496.80,502.19 L497.20,501.84 L497.30,501.80 L497.60,501.72 L498.00,501.63 L498.40,501.55 L498.80,501.48 L499.20,501.44 L499.60,501.41 L500.00,501.40 L500.00,501.40 L500.40,501.41 L500.80,501.44 L501.20,501.48 L501.60,501.53 L502.00,501.59 L502.40,501.65 L502.80,501.70 L503.20,501.76 L503.60,501.80 L503.60,501.80 L504.00,501.83 L504.40,501.86 L504.80,501.89 L505.20,501.91 L505.60,501.94 L506.00,501.97 L506.40,502.00 L506.80,502.04 L507.20,502.09 L507.30,502.10 L507.60,502.17 L508.00,502.34 L508.40,502.58 L508.80,502.85 L509.20,503.13 L509.60,503.41 L510.00,503.64 L510.40,503.81 L510.80,503.90 L510.90,503.90 L511.20,503.89 L511.60,503.87 L512.00,503.83 L512.40,503.78 L512.80,503.72 L513.20,503.66 L513.60,503.60 L513.60,503.60 L514.00,503.54 L514.40,503.48 L514.80,503.41 L515.20,503.34 L515.60,503.26 L516.00,503.18 L516.40,503.09 L516.80,503.00" stroke="#9467bd" stroke-width="1.80"/>
</g>
<rect x="59.50" y="317.30" width="478.80" height="229.10" fill="none" stroke="#2b2b2b" stroke-width="1.05"/>
<path d="M69.99,546.40 v2.4 M81.00,546.40 v2.4 M92.01,546.40 v2.4 M103.02,546.40 v2.4 M114.03,546.40 v2.4 M125.04,546.40 v2.4 M136.05,546.40 v2.4 M147.06,546.40 v2.4 M158.07,546.40 v2.4 M169.08,546.40 v2.4 M180.09,546.40 v2.4 M191.10,546.40 v2.4 M202.11,546.40 v2.4 M213.12,546.40 v2.4 M224.13,546.40 v2.4 M235.14,546.40 v2.4 M246.15,546.40 v2.4 M257.16,546.40 v2.4 M268.17,546.40 v2.4 M279.18,546.40 v2.4 M290.19,546.40 v2.4 M301.20,546.40 v2.4 M312.21,546.40 v2.4 M323.22,546.40 v2.4 M334.23,546.40 v2.4 M345.24,546.40 v2.4 M356.25,546.40 v2.4 M367.26,546.40 v2.4 M378.27,546.40 v2.4 M389.28,546.40 v2.4 M400.29,546.40 v2.4 M411.30,546.40 v2.4 M422.31,546.40 v2.4 M433.32,546.40 v2.4 M444.33,546.40 v2.4 M455.34,546.40 v2.4 M466.35,546.40 v2.4 M477.36,546.40 v2.4 M488.37,546.40 v2.4 M499.38,546.40 v2.4 M510.39,546.40 v2.4 M521.40,546.40 v2.4 M532.41,546.40 v2.4 M59.50,546.52 h-2.6 M59.50,540.52 h-2.6 M59.50,534.51 h-2.6 M59.50,528.51 h-2.6 M59.50,522.51 h-2.6 M59.50,516.50 h-2.6 M59.50,510.50 h-2.6 M59.50,504.49 h-2.6 M59.50,498.49 h-2.6 M59.50,492.49 h-2.6 M59.50,486.48 h-2.6 M59.50,480.48 h-2.6 M59.50,474.48 h-2.6 M59.50,468.47 h-2.6 M59.50,462.47 h-2.6 M59.50,456.47 h-2.6 M59.50,450.46 h-2.6 M59.50,444.46 h-2.6 M59.50,438.46 h-2.6 M59.50,432.45 h-2.6 M59.50,426.45 h-2.6 M59.50,420.45 h-2.6 M59.50,414.44 h-2.6 M59.50,408.44 h-2.6 M59.50,402.44 h-2.6 M59.50,396.43 h-2.6 M59.50,390.43 h-2.6 M59.50,384.42 h-2.6 M59.50,378.42 h-2.6 M59.50,372.42 h-2.6 M59.50,366.41 h-2.6 M59.50,360.41 h-2.6 M59.50,354.41 h-2.6 M59.50,348.40 h-2.6 M59.50,342.40 h-2.6 M59.50,336.40 h-2.6 M59.50,330.39 h-2.6 M59.50,324.39 h-2.6 M59.50,318.39 h-2.6" stroke="#2b2b2b" stroke-width="1" fill="none"/>
<g font-family="'DejaVu Sans', 'Liberation Sans', sans-serif" font-size="13.20" fill="#1a1a1a">
<text transform="translate(81.30,559.50) scale(0.930,1)" text-anchor="middle">0</text>
<text transform="translate(169.38,559.50) scale(0.930,1)" text-anchor="middle">200</text>
<text transform="translate(257.46,559.50) scale(0.930,1)" text-anchor="middle">400</text>
<text transform="translate(345.54,559.50) scale(0.930,1)" text-anchor="middle">600</text>
<text transform="translate(433.62,559.50) scale(0.930,1)" text-anchor="middle">800</text>
<text transform="translate(521.70,559.50) scale(0.930,1)" text-anchor="middle">1000</text>
<text transform="translate(54.6,527.30) scale(0.930,1)" text-anchor="end">3.20</text>
<text transform="translate(54.6,497.29) scale(0.930,1)" text-anchor="end">3.23</text>
<text transform="translate(54.6,467.27) scale(0.930,1)" text-anchor="end">3.25</text>
<text transform="translate(54.6,437.25) scale(0.930,1)" text-anchor="end">3.28</text>
<text transform="translate(54.6,407.24) scale(0.930,1)" text-anchor="end">3.30</text>
<text transform="translate(54.6,377.22) scale(0.930,1)" text-anchor="end">3.33</text>
<text transform="translate(54.6,347.20) scale(0.930,1)" text-anchor="end">3.35</text>
</g>
<text x="299.10" y="574.80" font-family="'DejaVu Sans', 'Liberation Sans', sans-serif" font-size="14.00" fill="#1a1a1a" text-anchor="middle">Time(h)</text>
<text transform="translate(22.7,432.85) rotate(-90)" font-family="'DejaVu Sans', 'Liberation Sans', sans-serif" font-size="14.00" fill="#1a1a1a" text-anchor="middle">Voltage(V)</text>
<rect x="66.40" y="431.90" width="125.40" height="107.20" rx="2.8" fill="#ffffff" fill-opacity="0.8" stroke="#eaeaea" stroke-width="0.9"/>
<path d="M71.2,443.00 H100.7" stroke="#4c92c3" stroke-width="1.70"/>
<text x="112.2" y="447.90" font-family="'DejaVu Sans', 'Liberation Sans', sans-serif" font-size="14.00" fill="#1a1a1a">s=0</text>
<path d="M71.2,463.67 H100.7" stroke="#ff993e" stroke-width="1.70"/>
<text x="112.2" y="468.57" font-family="'DejaVu Sans', 'Liberation Sans', sans-serif" font-size="14.00" fill="#1a1a1a">s=0.3</text>
<path d="M71.2,484.34 H100.7" stroke="#56b356" stroke-width="1.70"/>
<text x="112.2" y="489.24" font-family="'DejaVu Sans', 'Liberation Sans', sans-serif" font-size="14.00" fill="#1a1a1a">s=0.6</text>
<path d="M71.2,505.01 H100.7" stroke="#de5253" stroke-width="1.70"/>
<text x="112.2" y="509.91" font-family="'DejaVu Sans', 'Liberation Sans', sans-serif" font-size="14.00" fill="#1a1a1a">s=1</text>
<path d="M71.2,525.68 H100.7" stroke="#a985ca" stroke-width="1.70"/>
<text x="112.2" y="530.58" font-family="'DejaVu Sans', 'Liberation Sans', sans-serif" font-size="14.00" fill="#1a1a1a">Truth Data</text>
<text x="277.7" y="616.50" style="stroke:none" font-family="'Liberation Serif', serif" font-size="17.00" fill="#1a1a1a" text-anchor="middle"><tspan dy="-1">(</tspan><tspan dy="1" font-weight="bold">b</tspan><tspan dy="-1">)</tspan></text>
</g>
<g>
<clipPath id="clipc"><rect x="59.50" y="638.50" width="478.80" height="229.30"/></clipPath>
<g clip-path="url(#clipc)" fill="none" stroke-width="1.65" stroke-linejoin="round" stroke-linecap="butt">
<path d="M398.70,768.40 L399.86,769.55 L401.02,770.54 L402.18,772.79 L403.34,773.37 L404.50,774.23 L405.54,775.41 L406.59,776.17 L407.63,777.16 L408.67,777.87 L409.71,777.71 L410.76,778.31 L411.80,779.15 L412.84,779.58 L413.89,780.91 L414.93,781.99 L415.97,782.63 L417.01,782.72 L418.06,783.73 L419.10,785.68 L420.14,785.27 L421.19,786.69 L422.23,787.27 L423.27,787.47 L424.31,787.79 L425.36,788.97 L426.40,789.10 L427.43,790.25 L428.46,791.20 L429.49,791.66 L430.51,792.71 L431.54,793.50 L432.57,793.92 L433.60,795.21 L434.64,795.84 L435.69,796.14 L436.73,797.63 L437.77,798.49 L438.81,799.17 L439.86,799.34 L440.90,801.45 L442.40,801.41 L443.80,780.99 L444.90,781.77 L446.00,781.98 L447.10,783.53 L448.20,783.98 L449.36,785.96 L450.52,785.33 L451.68,786.44 L452.84,786.02 L454.00,786.77 L455.50,787.76 L456.20,767.92 L457.40,768.81 L458.60,769.66 L459.80,769.67 L460.90,772.28 L462.00,772.63 L463.10,775.05 L464.20,776.44 L465.22,776.55 L466.24,777.20 L467.26,776.77 L468.28,779.08 L469.30,778.60 L470.20,780.45 L471.27,780.71 L472.35,782.17 L473.43,782.77 L474.50,784.29 L475.60,784.76 L476.70,785.22 L477.80,786.08 L478.90,786.02 L480.06,786.65 L481.22,787.30 L482.38,788.92 L483.54,788.50 L484.70,790.03 L485.80,789.14 L486.90,790.15 L488.00,791.26 L489.10,791.53 L490.26,794.13 L491.42,795.12 L492.58,794.46 L493.74,795.84 L494.90,797.44 L496.00,799.18 L497.10,799.81 L498.20,800.35 L499.30,800.46 L500.38,801.82 L501.45,802.09 L502.53,803.71 L503.60,805.69 L504.78,806.44 L505.96,806.07 L507.14,807.29 L508.32,808.55 L509.50,808.48 L510.70,809.96 L511.90,812.08 L513.10,813.74 L514.30,813.77 L515.50,813.73 L516.70,814.01" stroke="#1f77b4"/>
<path d="M398.70,766.20 L399.86,766.96 L401.02,767.40 L402.18,768.96 L403.34,769.48 L404.50,770.29 L405.54,771.34 L406.59,771.77 L407.63,772.33 L408.67,772.48 L409.71,772.86 L410.76,774.61 L411.80,773.90 L412.84,774.75 L413.89,775.47 L414.93,776.78 L415.97,777.70 L417.01,778.81 L418.06,779.07 L419.10,779.22 L420.14,780.87 L421.19,781.90 L422.23,782.20 L423.27,782.86 L424.31,783.90 L425.36,785.02 L426.40,785.07 L427.43,785.29 L428.46,786.50 L429.49,787.51 L430.51,787.61 L431.54,789.59 L432.57,789.73 L433.60,791.13 L434.64,792.03 L435.69,792.85 L436.73,794.76 L437.77,794.82 L438.81,795.81 L439.86,797.29 L440.90,798.58 L442.40,799.00 L443.80,774.46 L444.90,776.11 L446.00,776.97 L447.10,778.53 L448.20,778.40 L449.36,779.34 L450.52,779.73 L451.68,780.05 L452.84,781.49 L454.00,782.58 L455.20,755.54 L456.35,755.87 L457.50,755.82 L458.65,757.13 L459.80,756.42 L460.77,758.19 L461.73,758.78 L462.70,760.43 L463.55,760.47 L464.40,760.04 L465.56,761.86 L466.72,762.78 L467.88,762.32 L469.04,763.90 L470.20,764.51 L471.27,765.49 L472.35,767.14 L473.43,767.65 L474.50,769.91 L475.60,771.43 L476.70,771.43 L477.80,773.07 L478.90,774.84 L480.00,775.16 L481.10,775.77 L482.20,776.49 L483.30,777.88 L484.38,778.84 L485.45,780.28 L486.53,780.42 L487.60,782.68 L488.57,782.25 L489.53,782.96 L490.50,782.57 L491.60,783.59 L492.70,785.19 L493.80,786.30 L494.90,787.83 L496.00,789.19 L497.10,790.29 L498.20,790.79 L499.30,791.36 L500.38,792.12 L501.45,793.32 L502.53,794.29 L503.60,794.35 L504.70,794.99 L505.80,795.26 L506.90,796.24 L508.00,797.13 L508.97,795.89 L509.93,797.81 L510.90,797.95 L512.40,792.05 L513.48,793.42 L514.55,793.41 L515.62,793.79 L516.70,793.19" stroke="#ff7f0e"/>
<path d="M397.30,768.40 L398.00,780.26 L398.97,781.75 L399.93,783.95 L400.90,787.19 L401.87,788.26 L402.83,789.81 L403.80,791.42 L405.03,790.70 L406.27,793.12 L407.50,792.94 L408.57,794.50 L409.65,796.07 L410.73,796.60 L411.80,798.34 L412.90,798.72 L414.00,798.53 L415.10,798.95 L416.20,798.18 L417.36,799.08 L418.52,799.82 L419.68,801.23 L420.84,803.46 L422.00,802.62 L423.16,803.03 L424.32,803.67 L425.48,804.74 L426.64,805.22 L427.80,804.98 L428.96,806.82 L430.12,807.21 L431.28,808.45 L432.44,808.04 L433.60,809.10 L434.70,810.44 L435.80,809.74 L436.90,811.10 L438.00,811.45 L439.10,811.92 L440.20,812.56 L441.30,813.07 L442.40,813.70 L443.80,792.22 L444.90,792.67 L446.00,794.27 L447.10,793.74 L448.20,793.78 L449.27,794.68 L450.35,795.17 L451.43,796.60 L452.50,797.39 L453.60,796.83 L454.70,794.89 L455.50,790.54 L456.47,793.55 L457.43,796.31 L458.40,799.31 L459.47,799.74 L460.55,799.91 L461.62,801.33 L462.70,802.07 L463.93,803.88 L465.17,805.03 L466.40,806.16 L467.37,808.57 L468.33,809.92 L469.30,811.22 L470.34,811.16 L471.38,811.61 L472.42,810.45 L473.46,809.93 L474.50,810.19 L475.68,810.08 L476.86,812.18 L478.04,812.51 L479.22,813.51 L480.40,814.95 L481.42,815.65 L482.44,814.56 L483.46,815.33 L484.48,815.07 L485.50,814.27 L486.58,816.28 L487.67,816.46 L488.75,817.14 L489.83,818.41 L490.92,819.41 L492.00,820.97 L493.10,820.37 L494.20,821.37 L495.30,820.80 L496.40,820.38 L497.56,821.48 L498.72,823.12 L499.88,823.27 L501.04,824.36 L502.20,826.10 L503.27,826.61 L504.35,826.23 L505.43,825.98 L506.50,825.70 L507.52,825.84 L508.54,827.69 L509.56,828.06 L510.58,830.26 L511.60,830.90 L512.40,847.56 L513.48,850.15 L514.55,852.50 L515.62,854.83 L516.70,857.26" stroke="#2ca02c"/>
<path d="M398.70,769.10 L399.86,769.11 L401.02,769.06 L402.18,770.09 L403.34,770.87 L404.50,770.96 L405.54,771.03 L406.59,772.03 L407.63,772.19 L408.67,773.19 L409.71,773.37 L410.76,774.33 L411.80,775.80 L412.84,775.88 L413.89,776.83 L414.93,776.44 L415.97,777.11 L417.01,778.03 L418.06,778.92 L419.10,779.21 L420.14,780.58 L421.19,780.71 L422.23,782.40 L423.27,783.05 L424.31,782.94 L425.36,784.53 L426.40,785.00 L427.43,786.07 L428.46,785.89 L429.49,786.78 L430.51,787.40 L431.54,786.43 L432.57,787.34 L433.60,788.76 L434.64,789.27 L435.69,790.41 L436.73,790.69 L437.77,790.64 L438.81,791.99 L439.86,792.13 L440.90,793.00 L442.40,793.57 L443.80,770.66 L444.90,770.79 L446.00,771.85 L447.10,772.27 L448.20,775.16 L449.36,774.19 L450.52,774.69 L451.68,775.00 L452.84,775.67 L454.00,776.20 L455.20,755.58 L456.35,755.18 L457.50,755.05 L458.65,754.43 L459.80,754.47 L460.90,756.15 L462.00,756.69 L463.10,757.94 L464.20,757.99 L465.26,759.27 L466.32,759.30 L467.38,759.90 L468.44,758.22 L469.50,759.61 L470.50,760.72 L471.50,761.99 L472.50,762.85 L473.50,764.41 L474.50,765.81 L475.60,766.04 L476.70,766.41 L477.80,766.97 L478.90,767.42 L480.06,768.63 L481.22,769.31 L482.38,769.76 L483.54,772.28 L484.70,771.90 L485.80,773.01 L486.90,772.85 L488.00,773.68 L489.10,773.75 L490.26,774.61 L491.42,774.69 L492.58,774.92 L493.74,776.09 L494.90,776.99 L496.10,777.51 L497.30,778.37 L498.50,778.81 L499.73,779.48 L500.97,779.95 L502.20,779.69 L503.27,781.29 L504.35,781.76 L505.43,782.84 L506.50,783.36 L507.60,784.09 L508.70,785.13 L509.80,785.93 L510.90,786.64 L511.87,786.76 L512.83,787.62 L513.80,788.67 L514.77,787.38 L515.73,788.22 L516.70,787.42" stroke="#d62728"/>
<path d="M80.80,695.00 L81.20,683.18 L81.50,676.80 L81.60,675.29 L82.00,670.10 L82.40,666.13 L82.80,663.20 L82.80,663.20 L83.20,660.72 L83.60,658.46 L84.00,656.67 L84.40,655.64 L84.60,655.50 L84.80,655.62 L85.20,656.43 L85.60,657.72 L86.00,659.13 L86.40,660.29 L86.50,660.50 L86.80,661.10 L87.20,661.91 L87.60,662.61 L88.00,663.08 L88.30,663.20 L88.40,663.19 L88.80,663.06 L89.20,662.79 L89.60,662.41 L90.00,661.98 L90.40,661.51 L90.50,661.40 L90.80,660.95 L91.20,660.09 L91.60,659.06 L92.00,657.99 L92.40,657.02 L92.80,656.28 L93.20,655.92 L93.30,655.90 L93.60,656.09 L94.00,656.85 L94.40,657.99 L94.80,659.30 L95.20,660.58 L95.50,661.40 L95.60,661.65 L96.00,662.74 L96.40,663.95 L96.80,665.18 L97.20,666.35 L97.60,667.38 L98.00,668.18 L98.40,668.68 L98.70,668.80 L98.80,668.79 L99.20,668.58 L99.60,668.13 L100.00,667.45 L100.40,666.58 L100.80,665.56 L101.00,665.00 L101.20,663.98 L101.60,659.98 L102.00,654.87 L102.40,650.47 L102.80,648.60 L102.80,648.60 L103.20,649.60 L103.60,652.18 L104.00,655.70 L104.40,659.52 L104.80,663.00 L105.10,665.00 L105.20,665.55 L105.60,667.84 L106.00,670.19 L106.40,672.48 L106.80,674.58 L107.20,676.38 L107.60,677.76 L108.00,678.60 L108.30,678.80 L108.40,678.75 L108.80,677.72 L109.20,675.72 L109.60,673.26 L110.00,670.83 L110.40,668.93 L110.50,668.60 L110.80,667.69 L111.20,666.49 L111.60,665.37 L112.00,664.46 L112.40,663.83 L112.80,663.60 L112.80,663.60 L113.20,663.81 L113.60,664.37 L114.00,665.17 L114.40,666.09 L114.80,667.04 L115.10,667.70 L115.20,667.92 L115.60,668.93 L116.00,670.14 L116.40,671.46 L116.80,672.82 L117.20,674.12 L117.60,675.30 L118.00,676.27 L118.40,676.96 L118.80,677.29 L118.90,677.30 L119.20,677.17 L119.60,676.64 L120.00,675.82 L120.40,674.83 L120.80,673.81 L121.20,672.87 L121.50,672.30 L121.60,672.13 L122.00,671.39 L122.40,670.61 L122.80,669.91 L123.20,669.38 L123.60,669.11 L123.70,669.10 L124.00,669.23 L124.40,669.75 L124.80,670.56 L125.20,671.55 L125.60,672.61 L126.00,673.63 L126.40,674.50 L126.40,674.50 L126.80,675.32 L127.20,676.24 L127.60,677.18 L128.00,678.09 L128.40,678.89 L128.80,679.52 L129.20,679.90 L129.50,680.00 L129.60,680.00 L130.00,679.91 L130.40,679.74 L130.80,679.50 L131.20,679.22 L131.60,678.91 L132.00,678.61 L132.40,678.33 L132.80,678.11 L133.20,677.96 L133.60,677.90 L133.60,677.90 L134.00,678.00 L134.40,678.28 L134.80,678.70 L135.20,679.26 L135.60,679.91 L136.00,680.63 L136.40,681.40 L136.40,681.40 L136.80,682.50 L137.20,684.12 L137.60,686.08 L138.00,688.18 L138.40,690.24 L138.80,692.08 L139.10,693.20 L139.20,693.53 L139.60,694.94 L140.00,696.34 L140.40,697.53 L140.80,698.30 L141.10,698.50 L141.20,698.49 L141.60,698.20 L142.00,697.62 L142.40,696.82 L142.80,695.90 L143.20,694.95 L143.60,694.07 L144.00,693.35 L144.10,693.20 L144.40,692.77 L144.80,692.16 L145.20,691.55 L145.60,690.98 L146.00,690.48 L146.40,690.10 L146.80,689.86 L147.10,689.80 L147.20,689.81 L147.60,690.08 L148.00,690.63 L148.40,691.40 L148.80,692.29 L149.20,693.24 L149.60,694.17 L150.00,695.00 L150.00,695.00 L150.40,695.87 L150.80,696.89 L151.20,697.91 L151.60,698.78 L152.00,699.35 L152.30,699.50 L152.40,699.49 L152.80,699.34 L153.20,699.03 L153.60,698.65 L154.00,698.26 L154.40,697.93 L154.80,697.73 L155.00,697.70 L155.20,697.73 L155.60,697.94 L156.00,698.30 L156.40,698.78 L156.80,699.32 L157.20,699.87 L157.30,700.00 L157.60,700.48 L158.00,701.34 L158.40,702.37 L158.80,703.45 L159.20,704.50 L159.60,705.40 L160.00,706.07 L160.40,706.39 L160.50,706.40 L160.80,706.39 L161.20,706.32 L161.60,706.21 L162.00,706.05 L162.30,705.90 L162.40,705.71 L162.80,702.70 L163.20,697.68 L163.60,692.70 L164.00,689.84 L164.10,689.70 L164.40,689.84 L164.80,690.42 L165.20,691.34 L165.60,692.49 L166.00,693.75 L166.40,695.00 L166.40,695.00 L166.80,696.61 L167.20,698.80 L167.60,701.25 L168.00,703.64 L168.40,705.66 L168.80,706.97 L169.10,707.30 L169.20,707.29 L169.60,707.06 L170.00,706.58 L170.40,705.90 L170.80,705.09 L171.20,704.19 L171.60,703.28 L172.00,702.40 L172.30,701.80 L172.40,701.60 L172.80,700.65 L173.20,699.57 L173.60,698.53 L174.00,697.73 L174.40,697.32 L174.50,697.30 L174.80,697.45 L175.20,698.07 L175.60,699.03 L176.00,700.21 L176.40,701.48 L176.80,702.70 L176.80,702.70 L177.20,704.09 L177.60,705.87 L178.00,707.89 L178.40,710.02 L178.80,712.10 L179.20,714.01 L179.60,715.61 L180.00,716.74 L180.40,717.28 L180.50,717.30 L180.80,717.06 L181.20,716.14 L181.60,714.78 L182.00,713.23 L182.40,711.78 L182.70,710.90 L182.80,710.65 L183.20,709.60 L183.60,708.49 L184.00,707.37 L184.40,706.29 L184.80,705.31 L185.20,704.46 L185.60,703.79 L186.00,703.36 L186.40,703.20 L186.40,703.20 L186.80,703.25 L187.20,703.39 L187.60,703.58 L188.00,703.77 L188.40,703.95 L188.80,704.07 L189.10,704.10 L189.20,704.10 L189.60,704.01 L190.00,703.83 L190.40,703.59 L190.80,703.32 L191.20,703.04 L191.60,702.80 L191.80,702.70 L192.00,702.61 L192.40,702.40 L192.80,702.18 L193.20,701.97 L193.60,701.77 L194.00,701.60 L194.40,701.48 L194.80,701.41 L195.00,701.40 L195.20,701.43 L195.60,701.63 L196.00,701.99 L196.40,702.46 L196.80,702.97 L197.20,703.48 L197.30,703.60 L197.60,704.01 L198.00,704.71 L198.40,705.52 L198.80,706.41 L199.20,707.32 L199.60,708.21 L200.00,709.01 L200.40,709.69 L200.80,710.19 L201.20,710.46 L201.40,710.50 L201.60,710.48 L202.00,710.33 L202.40,710.07 L202.80,709.73 L203.20,709.35 L203.60,708.97 L204.00,708.63 L204.40,708.37 L204.80,708.22 L205.00,708.20 L205.20,708.23 L205.60,708.48 L206.00,708.91 L206.40,709.47 L206.80,710.09 L207.20,710.71 L207.60,711.28 L207.70,711.40 L208.00,711.79 L208.40,712.37 L208.80,713.01 L209.20,713.66 L209.60,714.28 L210.00,714.85 L210.40,715.33 L210.80,715.68 L211.20,715.87 L211.40,715.90 L211.60,715.87 L212.00,715.69 L212.40,715.36 L212.80,714.95 L213.20,714.50 L213.60,714.06 L214.00,713.68 L214.10,713.60 L214.40,713.36 L214.80,713.01 L215.20,712.66 L215.60,712.33 L216.00,712.06 L216.40,711.87 L216.80,711.80 L216.80,711.80 L217.20,711.99 L217.60,712.49 L218.00,713.20 L218.40,714.04 L218.80,714.90 L219.10,715.50 L219.20,715.70 L219.60,716.58 L220.00,717.57 L220.40,718.61 L220.80,719.65 L221.20,720.61 L221.60,721.45 L221.80,721.80 L222.00,722.13 L222.40,722.83 L222.80,723.46 L223.20,723.92 L223.60,724.10 L223.60,724.10 L224.00,723.95 L224.40,723.58 L224.80,723.08 L225.20,722.56 L225.60,722.11 L226.00,721.84 L226.20,721.80 L226.40,721.85 L226.80,722.25 L227.20,722.95 L227.60,723.86 L228.00,724.88 L228.40,725.91 L228.60,726.40 L228.80,726.93 L229.20,728.23 L229.60,729.70 L230.00,731.18 L230.40,732.48 L230.80,733.44 L230.90,733.60 L231.20,734.03 L231.60,734.55 L232.00,734.91 L232.30,735.00 L232.40,734.95 L232.80,733.91 L233.20,731.83 L233.60,729.12 L234.00,726.21 L234.10,725.50 L234.40,722.60 L234.80,717.45 L235.20,712.95 L235.50,711.40 L235.60,711.28 L236.00,710.86 L236.40,710.59 L236.80,710.50 L236.80,710.50 L237.20,710.58 L237.60,710.82 L238.00,711.18 L238.40,711.66 L238.80,712.23 L239.10,712.70 L239.20,712.90 L239.60,714.38 L240.00,716.64 L240.40,719.33 L240.80,722.08 L241.20,724.51 L241.40,725.50 L241.60,726.42 L242.00,728.38 L242.40,730.32 L242.80,731.98 L243.20,733.16 L243.60,733.60 L243.60,733.60 L244.00,733.30 L244.40,732.55 L244.80,731.57 L245.20,730.60 L245.50,730.00 L245.60,729.83 L246.00,729.05 L246.40,728.27 L246.80,727.64 L247.20,727.32 L247.30,727.30 L247.60,727.41 L248.00,727.83 L248.40,728.50 L248.80,729.33 L249.20,730.21 L249.60,731.06 L250.00,731.80 L250.00,731.80 L250.40,732.51 L250.80,733.31 L251.20,734.14 L251.60,734.95 L252.00,735.67 L252.40,736.26 L252.80,736.66 L253.20,736.80 L253.20,736.80 L253.60,736.72 L254.00,736.49 L254.40,736.16 L254.80,735.76 L255.20,735.32 L255.60,734.87 L256.00,734.45 L256.40,734.10 L256.40,734.10 L256.80,733.75 L257.20,733.37 L257.60,733.00 L258.00,732.70 L258.40,732.52 L258.60,732.50 L258.80,732.51 L259.20,732.62 L259.60,732.79 L260.00,733.00 L260.40,733.21 L260.80,733.38 L261.20,733.49 L261.40,733.50 L261.60,733.50 L262.00,733.50 L262.40,733.50 L262.80,733.50 L263.20,733.50 L263.60,733.50 L264.00,733.50 L264.10,733.50 L264.40,733.48 L264.80,733.38 L265.20,733.23 L265.60,733.05 L266.00,732.85 L266.40,732.66 L266.80,732.49 L267.20,732.36 L267.60,732.30 L267.70,732.30 L268.00,732.39 L268.40,732.73 L268.80,733.28 L269.20,733.98 L269.60,734.74 L270.00,735.52 L270.40,736.24 L270.50,736.40 L270.80,736.92 L271.20,737.74 L271.60,738.65 L272.00,739.58 L272.40,740.49 L272.80,741.31 L273.20,741.98 L273.60,742.46 L274.00,742.69 L274.10,742.70 L274.40,742.69 L274.80,742.64 L275.20,742.56 L275.60,742.45 L276.00,742.34 L276.40,742.22 L276.80,742.11 L277.20,742.02 L277.30,742.00 L277.60,741.94 L278.00,741.85 L278.40,741.77 L278.80,741.68 L279.20,741.59 L279.60,741.52 L280.00,741.46 L280.40,741.42 L280.80,741.40 L280.90,741.40 L281.20,741.45 L281.60,741.63 L282.00,741.93 L282.40,742.28 L282.80,742.65 L283.20,743.01 L283.60,743.29 L284.00,743.48 L284.10,743.50 L284.40,743.55 L284.80,743.61 L285.20,743.65 L285.60,743.69 L286.00,743.72 L286.40,743.75 L286.80,743.79 L287.20,743.83 L287.60,743.88 L287.70,743.90 L288.00,743.95 L288.40,744.02 L288.80,744.11 L289.20,744.20 L289.60,744.31 L290.00,744.43 L290.40,744.57 L290.80,744.73 L291.20,744.90 L291.40,745.00 L291.60,745.12 L292.00,745.48 L292.40,745.97 L292.80,746.55 L293.20,747.20 L293.60,747.88 L294.00,748.56 L294.40,749.19 L294.80,749.76 L295.00,750.00 L295.20,750.24 L295.60,750.76 L296.00,751.29 L296.40,751.77 L296.80,752.12 L297.20,752.29 L297.30,752.30 L297.60,752.24 L298.00,751.99 L298.40,751.61 L298.80,751.14 L299.20,750.65 L299.60,750.18 L300.00,749.79 L300.40,749.54 L300.50,749.50 L300.80,749.41 L301.20,749.30 L301.60,749.20 L302.00,749.10 L302.40,749.02 L302.80,748.95 L303.20,748.89 L303.60,748.84 L304.00,748.81 L304.40,748.80 L304.50,748.80 L304.80,748.82 L305.20,748.91 L305.60,749.04 L306.00,749.19 L306.40,749.33 L306.80,749.44 L307.20,749.50 L307.30,749.50 L307.60,744.91 L308.00,734.03 L308.20,731.80 L308.40,731.82 L308.80,732.00 L309.20,732.32 L309.60,732.76 L310.00,733.26 L310.40,733.81 L310.80,734.36 L310.90,734.50 L311.20,734.96 L311.60,735.75 L312.00,736.68 L312.40,737.70 L312.80,738.78 L313.20,739.87 L313.60,740.92 L314.00,741.88 L314.40,742.71 L314.80,743.36 L315.00,743.60 L315.20,743.81 L315.60,744.20 L316.00,744.57 L316.40,744.89 L316.80,745.19 L317.20,745.44 L317.60,745.66 L318.00,745.83 L318.20,745.90 L318.40,745.96 L318.80,746.05 L319.20,746.12 L319.60,746.18 L320.00,746.26 L320.40,746.37 L320.50,746.40 L320.80,746.55 L321.20,746.86 L321.60,747.27 L322.00,747.74 L322.40,748.22 L322.80,748.69 L323.20,749.10 L323.20,749.10 L323.60,749.50 L324.00,749.95 L324.40,750.40 L324.80,750.81 L325.20,751.14 L325.60,751.35 L325.90,751.40 L326.00,751.39 L326.40,751.10 L326.80,750.51 L327.20,749.74 L327.60,748.91 L328.00,748.13 L328.40,747.51 L328.60,747.30 L328.80,747.13 L329.20,746.78 L329.60,746.46 L330.00,746.19 L330.40,746.00 L330.80,745.90 L330.90,745.90 L331.20,745.96 L331.60,746.22 L332.00,746.62 L332.40,747.12 L332.80,747.67 L333.20,748.20 L333.20,748.20 L333.60,748.83 L334.00,749.64 L334.40,750.51 L334.80,751.32 L335.20,751.98 L335.50,752.30 L335.60,752.38 L336.00,752.67 L336.40,752.92 L336.80,753.11 L337.20,753.20 L337.30,753.20 L337.60,753.15 L338.00,752.97 L338.40,752.69 L338.80,752.33 L339.20,751.95 L339.60,751.58 L340.00,751.26 L340.40,751.02 L340.80,750.91 L340.90,750.90 L341.20,750.97 L341.60,751.25 L342.00,751.70 L342.40,752.27 L342.80,752.89 L343.20,753.52 L343.60,754.10 L343.60,754.10 L344.00,754.68 L344.40,755.31 L344.80,755.99 L345.20,756.66 L345.60,757.33 L346.00,757.95 L346.40,758.50 L346.40,758.50 L346.80,759.05 L347.20,759.64 L347.60,760.18 L348.00,760.61 L348.40,760.87 L348.60,760.90 L348.80,760.87 L349.20,760.66 L349.60,760.34 L350.00,759.98 L350.40,759.67 L350.80,759.51 L350.90,759.50 L351.20,759.55 L351.60,759.78 L352.00,760.15 L352.40,760.62 L352.80,761.16 L353.20,761.73 L353.60,762.30 L353.60,762.30 L354.00,762.97 L354.40,763.82 L354.80,764.78 L355.20,765.77 L355.60,766.72 L356.00,767.55 L356.40,768.20 L356.40,768.20 L356.80,768.75 L357.20,769.28 L357.60,769.71 L358.00,769.96 L358.20,770.00 L358.40,769.97 L358.80,769.79 L359.20,769.47 L359.60,769.06 L360.00,768.64 L360.40,768.23 L360.80,767.91 L361.20,767.73 L361.40,767.70 L361.60,767.73 L362.00,767.93 L362.40,768.31 L362.80,768.82 L363.20,769.42 L363.60,770.07 L364.00,770.74 L364.10,770.90 L364.40,771.50 L364.80,772.57 L365.20,773.79 L365.60,775.01 L366.00,776.07 L366.40,776.80 L366.40,776.80 L366.80,777.31 L367.20,777.80 L367.60,778.24 L368.00,778.61 L368.40,778.89 L368.80,779.06 L369.10,779.10 L369.20,779.10 L369.60,779.07 L370.00,779.00 L370.40,778.87 L370.80,778.66 L370.90,778.60 L371.20,765.60 L371.50,752.70 L371.60,752.70 L372.00,752.77 L372.40,752.91 L372.80,753.10 L373.20,753.34 L373.60,753.60 L373.60,753.60 L374.00,754.02 L374.40,754.68 L374.80,755.49 L375.20,756.38 L375.60,757.25 L376.00,758.02 L376.40,758.60 L376.40,758.60 L376.80,759.06 L377.20,759.50 L377.60,759.91 L378.00,760.27 L378.40,760.57 L378.80,760.79 L379.10,760.90 L379.20,760.93 L379.60,761.01 L380.00,761.08 L380.40,761.14 L380.80,761.18 L381.20,761.23 L381.60,761.28 L382.00,761.34 L382.30,761.40 L382.40,761.42 L382.80,761.52 L383.20,761.63 L383.60,761.76 L384.00,761.90 L384.40,762.05 L384.80,762.21 L385.20,762.38 L385.60,762.56 L385.90,762.70 L386.00,762.75 L386.40,762.96 L386.80,763.19 L387.20,763.44 L387.60,763.72 L388.00,764.02 L388.40,764.33 L388.60,764.50 L388.80,764.69 L389.20,765.19 L389.60,765.78 L390.00,766.39 L390.40,766.96 L390.80,767.41 L391.20,767.66 L391.40,767.70 L391.60,767.69 L392.00,767.63 L392.40,767.53 L392.80,767.40 L393.20,767.25 L393.60,767.10 L394.00,766.97 L394.40,766.87 L394.80,766.81 L395.00,766.80 L395.20,766.80 L395.60,766.81 L396.00,766.82 L396.40,766.84 L396.80,766.87 L397.20,766.89 L397.30,766.90 L397.60,766.93 L398.00,766.99 L398.40,767.08 L398.80,767.19 L399.20,767.32 L399.60,767.47 L400.00,767.63 L400.40,767.81 L400.80,768.00 L401.20,768.20 L401.60,768.40 L401.60,768.40 L402.00,768.66 L402.40,769.00 L402.80,769.41 L403.20,769.87 L403.60,770.35 L404.00,770.85 L404.40,771.33 L404.80,771.77 L405.20,772.16 L405.60,772.48 L406.00,772.70 L406.00,772.70 L406.40,772.86 L406.80,772.99 L407.20,773.10 L407.60,773.20 L408.00,773.29 L408.40,773.37 L408.80,773.44 L409.20,773.52 L409.60,773.59 L410.00,773.67 L410.40,773.76 L410.80,773.87 L411.20,773.98 L411.60,774.12 L411.80,774.20 L412.00,774.30 L412.40,774.56 L412.80,774.91 L413.20,775.32 L413.60,775.77 L414.00,776.22 L414.40,776.66 L414.80,777.06 L415.20,777.40 L415.60,777.65 L416.00,777.78 L416.20,777.80 L416.40,777.78 L416.80,777.65 L417.20,777.42 L417.60,777.14 L418.00,776.85 L418.40,776.61 L418.80,776.44 L419.10,776.40 L419.20,776.40 L419.60,776.45 L420.00,776.54 L420.40,776.69 L420.80,776.87 L421.20,777.08 L421.60,777.31 L422.00,777.56 L422.40,777.81 L422.80,778.07 L423.20,778.32 L423.50,778.50 L423.60,778.56 L424.00,778.89 L424.40,779.25 L424.80,779.49 L425.00,779.52 L425.20,779.52 L425.60,779.50 L426.00,779.47 L426.40,779.43 L426.80,779.40 L427.20,779.37 L427.60,779.35 L427.70,779.35 L428.00,779.36 L428.40,779.38 L428.80,779.42 L429.20,779.47 L429.60,779.54 L430.00,779.60 L430.40,779.68 L430.50,779.69 L430.80,779.75 L431.20,779.84 L431.60,779.95 L432.00,780.08 L432.40,780.23 L432.80,780.42 L433.20,780.63 L433.20,780.63 L433.60,780.93 L434.00,781.38 L434.40,781.98 L434.50,782.16 L434.80,782.88 L435.20,784.31 L435.50,785.64 L435.60,786.14 L436.00,788.81 L436.40,791.84 L436.40,791.84 L436.80,794.85 L437.20,798.00 L437.30,798.80 L437.60,801.38 L438.00,805.06 L438.40,808.33 L438.60,809.58 L438.80,810.68 L439.20,812.85 L439.60,814.78 L440.00,816.23 L440.40,816.94 L440.50,816.97 L440.80,816.83 L441.20,816.29 L441.60,815.43 L442.00,814.36 L442.30,813.49 L442.40,813.18 L442.80,811.59 L443.20,808.82 L443.20,808.82 L443.60,794.49 L444.00,778.14 L444.10,777.15 L444.40,777.15 L444.80,777.15 L445.20,777.15 L445.60,777.15 L445.90,777.15 L446.00,777.15 L446.40,777.30 L446.80,777.59 L447.20,777.94 L447.60,778.27 L447.70,778.33 L448.00,778.56 L448.40,778.91 L448.80,779.23 L449.20,779.46 L449.50,779.52 L449.60,779.51 L450.00,779.25 L450.40,778.77 L450.80,778.21 L451.20,777.73 L451.40,777.57 L451.60,777.44 L452.00,777.19 L452.40,776.95 L452.80,776.74 L453.20,776.56 L453.60,776.44 L454.00,776.38 L454.10,776.38 L454.40,776.40 L454.80,776.45 L455.20,776.54 L455.60,776.66 L456.00,776.79 L456.40,776.93 L456.80,777.06 L456.80,777.06 L457.20,777.21 L457.60,777.39 L458.00,777.58 L458.40,777.79 L458.80,777.99 L459.20,778.19 L459.50,778.33 L459.60,778.38 L460.00,778.54 L460.40,778.70 L460.80,778.85 L461.20,779.00 L461.60,779.17 L462.00,779.36 L462.30,779.52 L462.40,779.58 L462.80,779.84 L463.20,780.15 L463.60,780.48 L464.00,780.84 L464.40,781.23 L464.80,781.62 L465.00,781.82 L465.20,782.02 L465.60,782.44 L466.00,782.88 L466.40,783.36 L466.80,783.86 L467.20,784.39 L467.30,784.53 L467.60,784.94 L468.00,785.49 L468.40,786.11 L468.80,786.88 L469.10,787.59 L469.20,787.89 L469.60,789.65 L470.00,791.97 L470.40,794.35 L470.50,794.89 L470.80,796.63 L471.20,799.09 L471.60,801.16 L471.80,801.85 L472.00,802.39 L472.40,803.39 L472.80,804.22 L473.20,804.79 L473.60,805.00 L473.60,805.00 L474.00,804.70 L474.40,803.95 L474.80,802.93 L475.20,801.84 L475.50,801.09 L475.60,800.86 L476.00,799.81 L476.40,798.68 L476.80,797.60 L477.20,796.69 L477.30,796.50 L477.60,795.99 L478.00,795.36 L478.40,794.77 L478.80,794.25 L479.20,793.78 L479.60,793.37 L480.00,793.02 L480.00,793.02 L480.40,792.72 L480.80,792.43 L481.20,792.16 L481.60,791.91 L482.00,791.68 L482.40,791.48 L482.80,791.31 L483.20,791.17 L483.60,791.07 L483.60,791.07 L484.00,790.99 L484.40,790.91 L484.80,790.84 L485.20,790.77 L485.60,790.72 L486.00,790.68 L486.40,790.66 L486.80,790.65 L486.80,790.65 L487.20,790.73 L487.60,790.97 L488.00,791.31 L488.40,791.75 L488.80,792.23 L489.10,792.60 L489.20,792.73 L489.60,793.46 L490.00,794.38 L490.40,795.37 L490.80,796.30 L490.90,796.50 L491.20,797.16 L491.60,798.12 L492.00,799.09 L492.40,799.93 L492.80,800.52 L493.20,800.75 L493.20,800.75 L493.60,800.65 L494.00,800.38 L494.40,800.00 L494.80,799.55 L495.20,799.11 L495.50,798.80 L495.60,798.70 L496.00,798.20 L496.40,797.66 L496.80,797.18 L497.20,796.88 L497.30,796.84 L497.60,796.78 L498.00,796.70 L498.40,796.63 L498.80,796.58 L499.20,796.54 L499.60,796.51 L500.00,796.50 L500.00,796.50 L500.40,796.51 L500.80,796.54 L501.20,796.57 L501.60,796.62 L502.00,796.66 L502.40,796.71 L502.80,796.76 L503.20,796.81 L503.60,796.84 L503.60,796.84 L504.00,796.87 L504.40,796.90 L504.80,796.92 L505.20,796.94 L505.60,796.96 L506.00,796.99 L506.40,797.01 L506.80,797.05 L507.20,797.09 L507.30,797.10 L507.60,797.16 L508.00,797.30 L508.40,797.50 L508.80,797.73 L509.20,797.98 L509.60,798.21 L510.00,798.41 L510.40,798.55 L510.80,798.62 L510.90,798.63 L511.20,798.62 L511.60,798.60 L512.00,798.57 L512.40,798.52 L512.80,798.47 L513.20,798.42 L513.60,798.37 L513.60,798.37 L514.00,798.32 L514.40,798.27 L514.80,798.21 L515.20,798.15 L515.60,798.08 L516.00,798.01 L516.40,797.94 L516.80,797.86" stroke="#9467bd" stroke-width="1.80"/>
</g>
<rect x="59.50" y="638.50" width="478.80" height="229.30" fill="none" stroke="#2b2b2b" stroke-width="1.05"/>
<path d="M69.99,867.80 v2.4 M81.00,867.80 v2.4 M92.01,867.80 v2.4 M103.02,867.80 v2.4 M114.03,867.80 v2.4 M125.04,867.80 v2.4 M136.05,867.80 v2.4 M147.06,867.80 v2.4 M158.07,867.80 v2.4 M169.08,867.80 v2.4 M180.09,867.80 v2.4 M191.10,867.80 v2.4 M202.11,867.80 v2.4 M213.12,867.80 v2.4 M224.13,867.80 v2.4 M235.14,867.80 v2.4 M246.15,867.80 v2.4 M257.16,867.80 v2.4 M268.17,867.80 v2.4 M279.18,867.80 v2.4 M290.19,867.80 v2.4 M301.20,867.80 v2.4 M312.21,867.80 v2.4 M323.22,867.80 v2.4 M334.23,867.80 v2.4 M345.24,867.80 v2.4 M356.25,867.80 v2.4 M367.26,867.80 v2.4 M378.27,867.80 v2.4 M389.28,867.80 v2.4 M400.29,867.80 v2.4 M411.30,867.80 v2.4 M422.31,867.80 v2.4 M433.32,867.80 v2.4 M444.33,867.80 v2.4 M455.34,867.80 v2.4 M466.35,867.80 v2.4 M477.36,867.80 v2.4 M488.37,867.80 v2.4 M499.38,867.80 v2.4 M510.39,867.80 v2.4 M521.40,867.80 v2.4 M532.41,867.80 v2.4 M59.50,865.40 h-2.6 M59.50,860.30 h-2.6 M59.50,855.21 h-2.6 M59.50,850.11 h-2.6 M59.50,845.01 h-2.6 M59.50,839.91 h-2.6 M59.50,834.82 h-2.6 M59.50,829.72 h-2.6 M59.50,824.62 h-2.6 M59.50,819.52 h-2.6 M59.50,814.43 h-2.6 M59.50,809.33 h-2.6 M59.50,804.23 h-2.6 M59.50,799.13 h-2.6 M59.50,794.04 h-2.6 M59.50,788.94 h-2.6 M59.50,783.84 h-2.6 M59.50,778.74 h-2.6 M59.50,773.65 h-2.6 M59.50,768.55 h-2.6 M59.50,763.45 h-2.6 M59.50,758.35 h-2.6 M59.50,753.26 h-2.6 M59.50,748.16 h-2.6 M59.50,743.06 h-2.6 M59.50,737.96 h-2.6 M59.50,732.87 h-2.6 M59.50,727.77 h-2.6 M59.50,722.67 h-2.6 M59.50,717.57 h-2.6 M59.50,712.48 h-2.6 M59.50,707.38 h-2.6 M59.50,702.28 h-2.6 M59.50,697.18 h-2.6 M59.50,692.09 h-2.6 M59.50,686.99 h-2.6 M59.50,681.89 h-2.6 M59.50,676.79 h-2.6 M59.50,671.70 h-2.6 M59.50,666.60 h-2.6 M59.50,661.50 h-2.6 M59.50,656.40 h-2.6 M59.50,651.31 h-2.6 M59.50,646.21 h-2.6 M59.50,641.11 h-2.6" stroke="#2b2b2b" stroke-width="1" fill="none"/>
<g font-family="'DejaVu Sans', 'Liberation Sans', sans-serif" font-size="13.20" fill="#1a1a1a">
<text transform="translate(81.30,880.90) scale(0.930,1)" text-anchor="middle">0</text>
<text transform="translate(169.38,880.90) scale(0.930,1)" text-anchor="middle">200</text>
<text transform="translate(257.46,880.90) scale(0.930,1)" text-anchor="middle">400</text>
<text transform="translate(345.54,880.90) scale(0.930,1)" text-anchor="middle">600</text>
<text transform="translate(433.62,880.90) scale(0.930,1)" text-anchor="middle">800</text>
<text transform="translate(521.70,880.90) scale(0.930,1)" text-anchor="middle">1000</text>
<text transform="translate(54.6,870.20) scale(0.930,1)" text-anchor="end">3.15</text>
<text transform="translate(54.6,819.22) scale(0.930,1)" text-anchor="end">3.20</text>
<text transform="translate(54.6,768.25) scale(0.930,1)" text-anchor="end">3.25</text>
<text transform="translate(54.6,717.28) scale(0.930,1)" text-anchor="end">3.30</text>
<text transform="translate(54.6,666.30) scale(0.930,1)" text-anchor="end">3.35</text>
</g>
<text x="299.10" y="896.20" font-family="'DejaVu Sans', 'Liberation Sans', sans-serif" font-size="14.00" fill="#1a1a1a" text-anchor="middle">Time(h)</text>
<text transform="translate(22.7,754.15) rotate(-90)" font-family="'DejaVu Sans', 'Liberation Sans', sans-serif" font-size="14.00" fill="#1a1a1a" text-anchor="middle">Voltage(V)</text>
<rect x="66.40" y="753.30" width="125.40" height="107.20" rx="2.8" fill="#ffffff" fill-opacity="0.8" stroke="#eaeaea" stroke-width="0.9"/>
<path d="M71.2,764.40 H100.7" stroke="#4c92c3" stroke-width="1.70"/>
<text x="112.2" y="769.30" font-family="'DejaVu Sans', 'Liberation Sans', sans-serif" font-size="14.00" fill="#1a1a1a">s=0</text>
<path d="M71.2,785.07 H100.7" stroke="#ff993e" stroke-width="1.70"/>
<text x="112.2" y="789.97" font-family="'DejaVu Sans', 'Liberation Sans', sans-serif" font-size="14.00" fill="#1a1a1a">s=0.3</text>
<path d="M71.2,805.74 H100.7" stroke="#56b356" stroke-width="1.70"/>
<text x="112.2" y="810.64" font-family="'DejaVu Sans', 'Liberation Sans', sans-serif" font-size="14.00" fill="#1a1a1a">s=0.6</text>
<path d="M71.2,826.41 H100.7" stroke="#de5253" stroke-width="1.70"/>
<text x="112.2" y="831.31" font-family="'DejaVu Sans', 'Liberation Sans', sans-serif" font-size="14.00" fill="#1a1a1a">s=1</text>
<path d="M71.2,847.08 H100.7" stroke="#a985ca" stroke-width="1.70"/>
<text x="112.2" y="851.98" font-family="'DejaVu Sans', 'Liberation Sans', sans-serif" font-size="14.00" fill="#1a1a1a">Truth Data</text>
<text x="277.7" y="937.90" style="stroke:none" font-family="'Liberation Serif', serif" font-size="17.00" fill="#1a1a1a" text-anchor="middle"><tspan dy="-1">(</tspan><tspan dy="1" font-weight="bold">c</tspan><tspan dy="-1">)</tspan></text>
</g>
</svg>
</body></html>
